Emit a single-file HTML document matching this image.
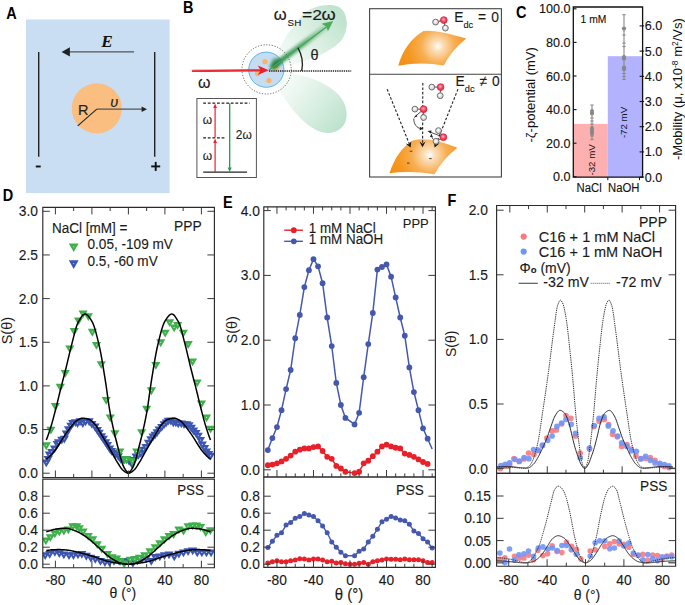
<!DOCTYPE html>
<html><head><meta charset="utf-8"><title>Figure</title>
<style>
html,body{margin:0;padding:0;background:#fff;width:685px;height:605px;overflow:hidden}
svg{display:block}
text{font-family:"Liberation Sans",sans-serif}
</style></head><body>
<svg width="685" height="605" viewBox="0 0 685 605">
<rect width="685" height="605" fill="#fff"/>
<text transform="translate(6.2,18.6) scale(1,1.1)" text-anchor="start" style='font-size:14.5px;font-family:"Liberation Sans",sans-serif;font-weight:bold;' fill="#000" >A</text>
<rect x="26" y="19.5" width="143.6" height="173.6" fill="#C9DEF2"/>
<line x1="38.7" y1="52" x2="38.7" y2="156.8" stroke="#222" stroke-width="1.4" />
<line x1="154.7" y1="52" x2="154.7" y2="156.7" stroke="#222" stroke-width="1.4" />
<line x1="35.8" y1="166.5" x2="40.7" y2="166.5" stroke="#111" stroke-width="1.9" />
<line x1="151.2" y1="166.4" x2="160.2" y2="166.4" stroke="#111" stroke-width="1.9" />
<line x1="155.7" y1="161.9" x2="155.7" y2="170.9" stroke="#111" stroke-width="1.9" />
<line x1="69" y1="51.9" x2="134.1" y2="51.9" stroke="#555" stroke-width="1.4" />
<polygon points="61.6,51.9 69.9,47.3 69.9,56.5" fill="#222"/>
<text transform="translate(101.2,46.7) scale(1,0.97)" text-anchor="start" style='font-size:17.2px;font-family:"Liberation Serif",serif;font-weight:bold;font-style:italic;' fill="#111" >E</text>
<circle cx="96.8" cy="108.4" r="25.1" fill="#F9BE80"/>
<line x1="96.8" y1="109.2" x2="77.7" y2="125.8" stroke="#222" stroke-width="1.1" />
<line x1="96.8" y1="109.2" x2="142.3" y2="109.2" stroke="#555" stroke-width="1.3" />
<polygon points="147,109.2 141.6,106.5 141.6,111.9" fill="#222"/>
<text transform="translate(77.9,114.7) scale(1,1.05)" text-anchor="start" style='font-size:14.6px;font-family:"Liberation Sans",sans-serif;' fill="#222" stroke="#222" stroke-width="0.12" >R</text>
<text transform="translate(110.2,107.3) scale(1,1.05)" text-anchor="start" style='font-size:14.5px;font-family:"Liberation Sans",sans-serif;font-style:italic;' fill="#222" stroke="#222" stroke-width="0.12" >υ</text>
<text transform="translate(183,12.8) scale(1,1.1)" text-anchor="start" style='font-size:14.5px;font-family:"Liberation Sans",sans-serif;font-weight:bold;' fill="#000" >B</text>
<defs>
<linearGradient id="lobeU" gradientUnits="userSpaceOnUse" x1="270" y1="68" x2="340" y2="14">
<stop offset="0" stop-color="#C4E6D2" stop-opacity="0"/>
<stop offset="0.35" stop-color="#C4E6D2" stop-opacity="0.35"/>
<stop offset="1" stop-color="#BFE3CD" stop-opacity="1"/>
</linearGradient>
<linearGradient id="lobeL" gradientUnits="userSpaceOnUse" x1="272" y1="76" x2="340" y2="128">
<stop offset="0" stop-color="#C4E6D2" stop-opacity="0"/>
<stop offset="0.3" stop-color="#C4E6D2" stop-opacity="0.3"/>
<stop offset="1" stop-color="#BCE2CC" stop-opacity="1"/>
</linearGradient>
<radialGradient id="surf1" gradientUnits="userSpaceOnUse" cx="437.8" cy="46.3" r="40">
<stop offset="0" stop-color="#FFFFFF"/>
<stop offset="0.12" stop-color="#FCE0BE"/>
<stop offset="0.42" stop-color="#F7AE52"/>
<stop offset="0.75" stop-color="#F5971F"/>
<stop offset="1" stop-color="#F39019"/>
</radialGradient>
<radialGradient id="surf2" gradientUnits="userSpaceOnUse" cx="429.4" cy="154.9" r="42">
<stop offset="0" stop-color="#FFFFFF"/>
<stop offset="0.12" stop-color="#FCE0BE"/>
<stop offset="0.42" stop-color="#F7AE52"/>
<stop offset="0.75" stop-color="#F5971F"/>
<stop offset="1" stop-color="#F39019"/>
</radialGradient>
<radialGradient id="oxy" cx="0.45" cy="0.4" r="0.6">
<stop offset="0" stop-color="#FFB8C0"/>
<stop offset="0.5" stop-color="#F2506A"/>
<stop offset="1" stop-color="#E02440"/>
</radialGradient>
<radialGradient id="hyd" cx="0.45" cy="0.4" r="0.6">
<stop offset="0" stop-color="#FFFFFF"/>
<stop offset="1" stop-color="#C8C8C8"/>
</radialGradient>
<filter id="blur1" x="-20%" y="-50%" width="140%" height="200%"><feGaussianBlur stdDeviation="1.6"/></filter>
<filter id="blur2" x="-20%" y="-50%" width="140%" height="200%"><feGaussianBlur stdDeviation="0.9"/></filter>
<filter id="blur3" x="-20%" y="-50%" width="140%" height="200%"><feGaussianBlur stdDeviation="0.4"/></filter>
<marker id="ah" markerWidth="6" markerHeight="6" refX="5" refY="3" orient="auto" markerUnits="userSpaceOnUse"><path d="M0,0 L6,3 L0,6 z" fill="#111"/></marker>
<marker id="ah2" markerWidth="4" markerHeight="4" refX="3.5" refY="2" orient="auto" markerUnits="userSpaceOnUse"><path d="M0,0 L4,2 L0,4 z" fill="#222"/></marker>
</defs>
<path d="M268,70 C276,55 287,31 303,14.5 C313,5.5 329,2.8 339,7 C349,13 349.5,32 340,42 C328,54 306,61 291,65 C282,67 274,69 268,70 Z" fill="url(#lobeU)"/>
<path d="M268,72 C280,71 300,73 318,81 C336,89 348,101 346.5,117 C345,131 331,136 318,131 C300,123 284,100 268,72 Z" fill="url(#lobeL)"/>
<circle cx="266.6" cy="69.4" r="24.6" fill="none" stroke="#555" stroke-width="0.9" stroke-dasharray="1.2,1.6"/>
<circle cx="266.3" cy="69.7" r="17.6" fill="#C6DCF1" stroke="#5FB4E8" stroke-width="1"/>
<circle cx="265" cy="61.7" r="2.6" fill="#F8B46A"/>
<circle cx="257.5" cy="73.6" r="2.6" fill="#F8B46A"/>
<circle cx="268.9" cy="80.6" r="2.6" fill="#F8B46A"/>
<circle cx="275.9" cy="68.3" r="2.6" fill="#F8B46A"/>
<linearGradient id="gglow" gradientUnits="userSpaceOnUse" x1="270" y1="69" x2="330" y2="24"><stop offset="0" stop-color="#0E7A30" stop-opacity="0.9"/><stop offset="0.6" stop-color="#1A8A3A" stop-opacity="0.6"/><stop offset="1" stop-color="#2A9A4A" stop-opacity="0.15"/></linearGradient>
<line x1="271" y1="68" x2="329" y2="24.5" stroke="url(#gglow)" stroke-width="5.5" filter="url(#blur1)"/>
<circle cx="276" cy="62.5" r="4.5" fill="#0E7A30" fill-opacity="0.55" filter="url(#blur1)"/>
<line x1="269" y1="70" x2="329" y2="25" stroke="#45A653" stroke-width="1.4" />
<polygon points="333.2,21 321.6,23.8 326.3,26.6 327.9,31.3" fill="#4DAA58"/>
<line x1="192" y1="71.2" x2="262" y2="70.3" stroke="#F24048" stroke-width="5" stroke-opacity="0.5" filter="url(#blur1)"/>
<line x1="192" y1="71.2" x2="262" y2="70.3" stroke="#EE2A35" stroke-width="2" filter="url(#blur3)"/>
<polygon points="268.8,70.2 257.8,65.6 260.6,70.3 257.8,75" fill="#E8202E" filter="url(#blur3)"/>
<line x1="269" y1="71" x2="351.2" y2="71" stroke="#222" stroke-width="1.4" stroke-dasharray="1.3,0.9"/>
<path d="M297.8,47.6 A33,33 0 0 1 301.7,71" fill="none" stroke="#222" stroke-width="1.3"/>
<text transform="translate(310.4,59.8) scale(1,1.05)" text-anchor="start" style='font-size:14.5px;font-family:"Liberation Sans",sans-serif;' fill="#222" stroke="#222" stroke-width="0.12" >θ</text>
<text transform="translate(273.7,20) scale(1,1.05)" text-anchor="start" style='font-size:15.5px;font-family:"Liberation Sans",sans-serif;' fill="#1a1a1a" stroke="#1a1a1a" stroke-width="0.12" textLength="12.9" lengthAdjust="spacingAndGlyphs">ω</text>
<text transform="translate(287.6,25.5) scale(1,1.05)" text-anchor="start" style='font-size:9.2px;font-family:"Liberation Sans",sans-serif;' fill="#1a1a1a" stroke="#1a1a1a" stroke-width="0.12" textLength="13.6" lengthAdjust="spacingAndGlyphs">SH</text>
<text transform="translate(302,19.9) scale(1,1.05)" text-anchor="start" style='font-size:14.5px;font-family:"Liberation Sans",sans-serif;' fill="#1a1a1a" stroke="#1a1a1a" stroke-width="0.12" textLength="20" lengthAdjust="spacingAndGlyphs">=2</text>
<text transform="translate(321.6,20) scale(1,1.05)" text-anchor="start" style='font-size:15.5px;font-family:"Liberation Sans",sans-serif;' fill="#1a1a1a" stroke="#1a1a1a" stroke-width="0.12" textLength="14.2" lengthAdjust="spacingAndGlyphs">ω</text>
<text transform="translate(198,87.8) scale(1,1.05)" text-anchor="start" style='font-size:16px;font-family:"Liberation Sans",sans-serif;' fill="#1a1a1a" stroke="#1a1a1a" stroke-width="0.12" >ω</text>
<rect x="196.9" y="98.5" width="59.5" height="79" fill="#fff" stroke="#555" stroke-width="1"/>
<line x1="203.2" y1="103.1" x2="249.8" y2="103.1" stroke="#222" stroke-width="1.3" stroke-dasharray="2.8,1.8"/>
<line x1="203.2" y1="137.9" x2="225.5" y2="137.9" stroke="#222" stroke-width="1.3" stroke-dasharray="2.8,1.8"/>
<line x1="203.2" y1="172.2" x2="247" y2="172.2" stroke="#222" stroke-width="1.3" />
<line x1="215.1" y1="172" x2="215.1" y2="141.5" stroke="#EE2030" stroke-width="1.2" />
<polygon points="215.1,138.6 213.2,143 217,143" fill="#EE2030"/>
<line x1="215.1" y1="137.5" x2="215.1" y2="106.5" stroke="#EE2030" stroke-width="1.2" />
<polygon points="215.1,103.6 213.2,108 217,108" fill="#EE2030"/>
<line x1="229.7" y1="103.3" x2="229.7" y2="168.5" stroke="#1E9A4A" stroke-width="1.3" />
<polygon points="229.7,172 227.7,167.5 231.7,167.5" fill="#1E9A4A"/>
<text transform="translate(202.8,123.8) scale(1,1.05)" text-anchor="start" style='font-size:12px;font-family:"Liberation Sans",sans-serif;' fill="#222" stroke="#222" stroke-width="0.12" >ω</text>
<text transform="translate(202.8,160.2) scale(1,1.05)" text-anchor="start" style='font-size:12px;font-family:"Liberation Sans",sans-serif;' fill="#222" stroke="#222" stroke-width="0.12" >ω</text>
<text transform="translate(235.8,138.7) scale(1,1.05)" text-anchor="start" style='font-size:12px;font-family:"Liberation Sans",sans-serif;' fill="#222" stroke="#222" stroke-width="0.12" >2ω</text>
<rect x="369.6" y="8.7" width="131.8" height="168.3" fill="none" stroke="#444" stroke-width="1.1"/>
<line x1="369.6" y1="74.2" x2="501.4" y2="74.2" stroke="#444" stroke-width="1.1" />
<path d="M423.5,31 Q436,29.5 466.3,38.6 Q452,50 443.8,65.4 Q420,61.5 398.2,65.7 Q405,42 423.5,31 Z" fill="url(#surf1)"/>
<path d="M413,140.6 Q428,136 457.4,147.8 Q442,160 434.5,174.3 Q410,170.5 389.5,173.3 Q397,150 413,140.6 Z" fill="url(#surf2)"/>
<line x1="387.1" y1="89.1" x2="409.6" y2="144.5" stroke="#222" stroke-width="1.1" stroke-dasharray="2.6,1.8"/>
<line x1="422.8" y1="83" x2="422.6" y2="144.5" stroke="#222" stroke-width="1.1" stroke-dasharray="2.6,1.8"/>
<line x1="458" y1="89.1" x2="435.9" y2="144.5" stroke="#222" stroke-width="1.1" stroke-dasharray="2.6,1.8"/>
<path d="M410.6,147.6 L405.55,143.39 L409.29,144.38 L411.29,141.06 Z" fill="#111"/>
<path d="M422.5,147.2 L419.4,141.4 L422.5,143.72 L425.6,141.4 Z" fill="#111"/>
<path d="M434.6,147.6 L433.87,141.06 L435.89,144.37 L439.63,143.36 Z" fill="#111"/>
<line x1="423.6" y1="109.2" x2="415.2" y2="116.6" stroke="#222" stroke-width="0.8" />
<path d="M413.6,117.8 L416.6,114.6 L417.4,116.6 Z" fill="#222"/>
<path d="M413.8,118.5 C413.5,124 417,128.3 421,128.6" fill="none" stroke="#222" stroke-width="0.8"/>
<path d="M423.2,128.6 L419.8,126.8 L419.8,130.4 Z" fill="#222"/>
<line x1="443.4" y1="137.2" x2="429.5" y2="131.8" stroke="#222" stroke-width="0.8" />
<path d="M427.5,131.1 L431.6,130.6 L430.8,133.4 Z" fill="#222"/>
<path d="M431.4,134 C431.5,137 432.6,139.3 434.4,140.4" fill="none" stroke="#222" stroke-width="0.8"/>
<path d="M431.2,134.2 L429.9,137 L432.9,137 Z" fill="#222"/>
<line x1="443.8" y1="20.1" x2="435.6" y2="22.1" stroke="#666" stroke-width="1.1"/>
<line x1="443.8" y1="20.1" x2="445.4" y2="28.1" stroke="#666" stroke-width="1.1"/>
<circle cx="435.6" cy="22.1" r="2.9" fill="url(#hyd)" stroke="#707070" stroke-width="1"/>
<circle cx="445.4" cy="28.1" r="2.9" fill="url(#hyd)" stroke="#707070" stroke-width="1"/>
<circle cx="443.8" cy="20.1" r="3.4" fill="url(#oxy)" stroke="#D42840" stroke-width="0.8"/>
<line x1="440.6" y1="87.1" x2="431.8" y2="87.1" stroke="#666" stroke-width="1.1"/>
<line x1="440.6" y1="87.1" x2="440.2" y2="95.7" stroke="#666" stroke-width="1.1"/>
<circle cx="431.8" cy="87.1" r="2.9" fill="url(#hyd)" stroke="#707070" stroke-width="1"/>
<circle cx="440.2" cy="95.7" r="2.9" fill="url(#hyd)" stroke="#707070" stroke-width="1"/>
<circle cx="440.6" cy="87.1" r="3.4" fill="url(#oxy)" stroke="#D42840" stroke-width="0.8"/>
<line x1="423.6" y1="109.2" x2="414.9" y2="109.1" stroke="#666" stroke-width="1.1"/>
<line x1="423.6" y1="109.2" x2="423.6" y2="117.5" stroke="#666" stroke-width="1.1"/>
<circle cx="414.9" cy="109.1" r="2.9" fill="url(#hyd)" stroke="#707070" stroke-width="1"/>
<circle cx="423.6" cy="117.5" r="2.9" fill="url(#hyd)" stroke="#707070" stroke-width="1"/>
<circle cx="423.6" cy="109.2" r="3.4" fill="url(#oxy)" stroke="#D42840" stroke-width="0.8"/>
<line x1="443.4" y1="137.2" x2="438.5" y2="130.6" stroke="#666" stroke-width="1.1"/>
<line x1="443.4" y1="137.2" x2="436.0" y2="141.3" stroke="#666" stroke-width="1.1"/>
<circle cx="438.5" cy="130.6" r="2.9" fill="url(#hyd)" stroke="#707070" stroke-width="1"/>
<circle cx="436.0" cy="141.3" r="2.9" fill="url(#hyd)" stroke="#707070" stroke-width="1"/>
<circle cx="443.4" cy="137.2" r="3.4" fill="url(#oxy)" stroke="#D42840" stroke-width="0.8"/>
<line x1="409.7" y1="151.2" x2="412.3" y2="151.2" stroke="#333" stroke-width="0.9" />
<line x1="429.1" y1="158.6" x2="431.7" y2="158.6" stroke="#333" stroke-width="0.9" />
<line x1="407" y1="163.1" x2="409.6" y2="163.1" stroke="#333" stroke-width="0.9" />
<text transform="translate(454.2,21.9) scale(1,1.05)" text-anchor="start" style='font-size:13.8px;font-family:"Liberation Sans",sans-serif;' fill="#1a1a1a" stroke="#1a1a1a" stroke-width="0.12" >E</text>
<text transform="translate(463.4,27.6) scale(1,1.05)" text-anchor="start" style='font-size:9.2px;font-family:"Liberation Sans",sans-serif;' fill="#1a1a1a" stroke="#1a1a1a" stroke-width="0.12" >dc</text>
<text transform="translate(478,21.9) scale(1,1.05)" text-anchor="start" style='font-size:13.8px;font-family:"Liberation Sans",sans-serif;' fill="#1a1a1a" stroke="#1a1a1a" stroke-width="0.12" >=</text>
<text transform="translate(491.3,21.9) scale(1,1.05)" text-anchor="start" style='font-size:13.8px;font-family:"Liberation Sans",sans-serif;' fill="#1a1a1a" stroke="#1a1a1a" stroke-width="0.12" >0</text>
<text transform="translate(455.5,85.9) scale(1,1.05)" text-anchor="start" style='font-size:13.8px;font-family:"Liberation Sans",sans-serif;' fill="#1a1a1a" stroke="#1a1a1a" stroke-width="0.12" >E</text>
<text transform="translate(464.8,91.6) scale(1,1.05)" text-anchor="start" style='font-size:9.2px;font-family:"Liberation Sans",sans-serif;' fill="#1a1a1a" stroke="#1a1a1a" stroke-width="0.12" >dc</text>
<text transform="translate(479.8,85.9) scale(1,1.05)" text-anchor="start" style='font-size:13.8px;font-family:"Liberation Sans",sans-serif;' fill="#1a1a1a" stroke="#1a1a1a" stroke-width="0.12" >≠</text>
<text transform="translate(492,85.9) scale(1,1.05)" text-anchor="start" style='font-size:13.8px;font-family:"Liberation Sans",sans-serif;' fill="#1a1a1a" stroke="#1a1a1a" stroke-width="0.12" >0</text>
<text transform="translate(516,17.6) scale(1,1.1)" text-anchor="start" style='font-size:14.5px;font-family:"Liberation Sans",sans-serif;font-weight:bold;' fill="#000" >C</text>
<rect x="573.3" y="123.9" width="34.5" height="53.29999999999998" fill="#FDB0B0"/>
<rect x="607.8" y="56.2" width="34.80000000000007" height="120.99999999999999" fill="#B2B2FE"/>
<path d="M573.3,7 L642.6,7 L642.6,177.2 L573.3,177.2 Z" fill="none" stroke="#111" stroke-width="1.3"/>
<line x1="573.3" y1="176.8" x2="576.5" y2="176.8" stroke="#111" stroke-width="1.1" />
<text transform="translate(570.6,181.3) scale(1,1.05)" text-anchor="end" style='font-size:12.6px;font-family:"Liberation Sans",sans-serif;' fill="#111" stroke="#111" stroke-width="0.12" >0.0</text>
<line x1="573.3" y1="143.2" x2="576.5" y2="143.2" stroke="#111" stroke-width="1.1" />
<text transform="translate(570.6,147.7) scale(1,1.05)" text-anchor="end" style='font-size:12.6px;font-family:"Liberation Sans",sans-serif;' fill="#111" stroke="#111" stroke-width="0.12" >20.0</text>
<line x1="573.3" y1="109.6" x2="576.5" y2="109.6" stroke="#111" stroke-width="1.1" />
<text transform="translate(570.6,114.1) scale(1,1.05)" text-anchor="end" style='font-size:12.6px;font-family:"Liberation Sans",sans-serif;' fill="#111" stroke="#111" stroke-width="0.12" >40.0</text>
<line x1="573.3" y1="76" x2="576.5" y2="76" stroke="#111" stroke-width="1.1" />
<text transform="translate(570.6,80.5) scale(1,1.05)" text-anchor="end" style='font-size:12.6px;font-family:"Liberation Sans",sans-serif;' fill="#111" stroke="#111" stroke-width="0.12" >60.0</text>
<line x1="573.3" y1="42.4" x2="576.5" y2="42.4" stroke="#111" stroke-width="1.1" />
<text transform="translate(570.6,46.9) scale(1,1.05)" text-anchor="end" style='font-size:12.6px;font-family:"Liberation Sans",sans-serif;' fill="#111" stroke="#111" stroke-width="0.12" >80.0</text>
<line x1="573.3" y1="8.8" x2="576.5" y2="8.8" stroke="#111" stroke-width="1.1" />
<text transform="translate(570.6,13.3) scale(1,1.05)" text-anchor="end" style='font-size:12.6px;font-family:"Liberation Sans",sans-serif;' fill="#111" stroke="#111" stroke-width="0.12" >100.0</text>
<line x1="639.6" y1="177.1" x2="644.1" y2="177.1" stroke="#111" stroke-width="1.1" />
<text transform="translate(644.8,181.6) scale(1,1.05)" text-anchor="start" style='font-size:12.6px;font-family:"Liberation Sans",sans-serif;' fill="#111" stroke="#111" stroke-width="0.12" >0.0</text>
<line x1="639.6" y1="151.9" x2="644.1" y2="151.9" stroke="#111" stroke-width="1.1" />
<text transform="translate(644.8,156.4) scale(1,1.05)" text-anchor="start" style='font-size:12.6px;font-family:"Liberation Sans",sans-serif;' fill="#111" stroke="#111" stroke-width="0.12" >1.0</text>
<line x1="639.6" y1="126.7" x2="644.1" y2="126.7" stroke="#111" stroke-width="1.1" />
<text transform="translate(644.8,131.2) scale(1,1.05)" text-anchor="start" style='font-size:12.6px;font-family:"Liberation Sans",sans-serif;' fill="#111" stroke="#111" stroke-width="0.12" >2.0</text>
<line x1="639.6" y1="101.5" x2="644.1" y2="101.5" stroke="#111" stroke-width="1.1" />
<text transform="translate(644.8,106) scale(1,1.05)" text-anchor="start" style='font-size:12.6px;font-family:"Liberation Sans",sans-serif;' fill="#111" stroke="#111" stroke-width="0.12" >3.0</text>
<line x1="639.6" y1="76.3" x2="644.1" y2="76.3" stroke="#111" stroke-width="1.1" />
<text transform="translate(644.8,80.8) scale(1,1.05)" text-anchor="start" style='font-size:12.6px;font-family:"Liberation Sans",sans-serif;' fill="#111" stroke="#111" stroke-width="0.12" >4.0</text>
<line x1="639.6" y1="51.1" x2="644.1" y2="51.1" stroke="#111" stroke-width="1.1" />
<text transform="translate(644.8,55.6) scale(1,1.05)" text-anchor="start" style='font-size:12.6px;font-family:"Liberation Sans",sans-serif;' fill="#111" stroke="#111" stroke-width="0.12" >5.0</text>
<line x1="639.6" y1="25.9" x2="644.1" y2="25.9" stroke="#111" stroke-width="1.1" />
<text transform="translate(644.8,30.4) scale(1,1.05)" text-anchor="start" style='font-size:12.6px;font-family:"Liberation Sans",sans-serif;' fill="#111" stroke="#111" stroke-width="0.12" >6.0</text>
<line x1="607.8" y1="177.2" x2="607.8" y2="180.2" stroke="#111" stroke-width="1" />
<line x1="639.5" y1="177.2" x2="639.5" y2="180.2" stroke="#111" stroke-width="1" />
<text transform="translate(589.1,191.5) scale(1,1.05)" text-anchor="middle" style='font-size:11.3px;font-family:"Liberation Sans",sans-serif;' fill="#111" stroke="#111" stroke-width="0.12" >NaCl</text>
<text transform="translate(623.8,191.5) scale(1,1.05)" text-anchor="middle" style='font-size:11.3px;font-family:"Liberation Sans",sans-serif;' fill="#111" stroke="#111" stroke-width="0.12" >NaOH</text>
<text transform="translate(580.6,22.6) scale(1,1.05)" text-anchor="start" style='font-size:10.3px;font-family:"Liberation Sans",sans-serif;' fill="#111" stroke="#111" stroke-width="0.12" >1 mM</text>
<text transform="translate(594.9,159.9) rotate(-90)" text-anchor="middle" style="font-size:9.7px" fill="#111" font-family='"Liberation Sans",sans-serif'>-32 mV</text>
<text transform="translate(627.4,122.5) rotate(-90)" text-anchor="middle" style="font-size:9.7px" fill="#111" font-family='"Liberation Sans",sans-serif'>-72 mV</text>
<text transform="translate(535.1,94.8) rotate(-90)" text-anchor="middle" style="font-size:13px" fill="#111" font-family='"Liberation Sans",sans-serif'>-ζ-potential (mV)</text>
<text transform="translate(682.1,89.1) rotate(-90)" text-anchor="middle" style="font-size:13px" fill="#111" font-family='"Liberation Sans",sans-serif'>-Mobility (μ, x10<tspan dy="-4.5" style="font-size:8.5px">-8</tspan><tspan dy="4.5"> m</tspan><tspan dy="-4.5" style="font-size:8.5px">2</tspan><tspan dy="4.5">/Vs)</tspan></text>
<line x1="592" y1="105" x2="592" y2="139.7" stroke="#888" stroke-width="1.1" />
<line x1="590.3" y1="105" x2="593.7" y2="105" stroke="#888" stroke-width="1" />
<line x1="590.3" y1="139.7" x2="593.7" y2="139.7" stroke="#888" stroke-width="1" />
<line x1="590.3" y1="114" x2="593.7" y2="114" stroke="#888" stroke-width="1" />
<line x1="590.3" y1="118" x2="593.7" y2="118" stroke="#888" stroke-width="1" />
<line x1="590.3" y1="121" x2="593.7" y2="121" stroke="#888" stroke-width="1" />
<line x1="590.3" y1="124" x2="593.7" y2="124" stroke="#888" stroke-width="1" />
<line x1="590.3" y1="131" x2="593.7" y2="131" stroke="#888" stroke-width="1" />
<line x1="590.3" y1="136" x2="593.7" y2="136" stroke="#888" stroke-width="1" />
<circle cx="592" cy="110.8" r="1.9" fill="#888"/>
<circle cx="592" cy="112.2" r="1.9" fill="#888"/>
<circle cx="592" cy="113.6" r="1.9" fill="#888"/>
<circle cx="592" cy="128" r="1.9" fill="#888"/>
<circle cx="592" cy="129.5" r="1.9" fill="#888"/>
<circle cx="592" cy="131" r="1.9" fill="#888"/>
<circle cx="592" cy="132.5" r="1.9" fill="#888"/>
<circle cx="592" cy="134" r="1.9" fill="#888"/>
<line x1="624" y1="14.7" x2="624" y2="79.5" stroke="#888" stroke-width="1.1" />
<line x1="622.3" y1="14.7" x2="625.7" y2="14.7" stroke="#888" stroke-width="1" />
<line x1="622.3" y1="79.5" x2="625.7" y2="79.5" stroke="#888" stroke-width="1" />
<line x1="622.3" y1="35" x2="625.7" y2="35" stroke="#888" stroke-width="1" />
<line x1="622.3" y1="43" x2="625.7" y2="43" stroke="#888" stroke-width="1" />
<line x1="622.3" y1="46.6" x2="625.7" y2="46.6" stroke="#888" stroke-width="1" />
<line x1="622.3" y1="73.5" x2="625.7" y2="73.5" stroke="#888" stroke-width="1" />
<line x1="622.3" y1="76.5" x2="625.7" y2="76.5" stroke="#888" stroke-width="1" />
<circle cx="624" cy="28.6" r="2.1" fill="#888"/>
<circle cx="624" cy="57" r="2.1" fill="#888"/>
<circle cx="624" cy="58.6" r="2.1" fill="#888"/>
<circle cx="624" cy="67.6" r="2.1" fill="#888"/>
<circle cx="624" cy="69.2" r="2.1" fill="#888"/>
<text transform="translate(2.7,200.6) scale(1,1.1)" text-anchor="start" style='font-size:14.5px;font-family:"Liberation Sans",sans-serif;font-weight:bold;' fill="#000" >D</text>
<clipPath id="cD1"><rect x="42.8" y="207.4" width="171.60000000000002" height="270.1"/></clipPath>
<clipPath id="cD2"><rect x="42.8" y="479.1" width="171.60000000000002" height="88.60000000000002"/></clipPath>
<g clip-path="url(#cD1)">
<path d="M41.68,459.38 L50.88,459.38 L46.28,467.18 Z" fill="#3B56B2"/>
<circle cx="46.28" cy="462.34" r="0.6" fill="#fff" fill-opacity="0.75"/>
<path d="M43.5,455.89 L52.7,455.89 L48.1,463.69 Z" fill="#3B56B2"/>
<circle cx="48.1" cy="458.85" r="0.6" fill="#fff" fill-opacity="0.75"/>
<path d="M44.78,451.52 L53.98,451.52 L49.38,459.32 Z" fill="#3B56B2"/>
<circle cx="49.38" cy="454.49" r="0.6" fill="#fff" fill-opacity="0.75"/>
<path d="M47.15,448.9 L56.35,448.9 L51.75,456.7 Z" fill="#3B56B2"/>
<circle cx="51.75" cy="451.87" r="0.6" fill="#fff" fill-opacity="0.75"/>
<path d="M49.89,445.41 L59.09,445.41 L54.49,453.21 Z" fill="#3B56B2"/>
<circle cx="54.49" cy="448.37" r="0.6" fill="#fff" fill-opacity="0.75"/>
<path d="M52.63,441.05 L61.83,441.05 L57.23,448.84 Z" fill="#3B56B2"/>
<circle cx="57.23" cy="444.01" r="0.6" fill="#fff" fill-opacity="0.75"/>
<path d="M53.9,439.3 L63.1,439.3 L58.5,447.1 Z" fill="#3B56B2"/>
<circle cx="58.5" cy="442.26" r="0.6" fill="#fff" fill-opacity="0.75"/>
<path d="M57.19,436.68 L66.39,436.68 L61.79,444.48 Z" fill="#3B56B2"/>
<circle cx="61.79" cy="439.64" r="0.6" fill="#fff" fill-opacity="0.75"/>
<path d="M59.74,435.81 L68.94,435.81 L64.34,443.61 Z" fill="#3B56B2"/>
<circle cx="64.34" cy="438.77" r="0.6" fill="#fff" fill-opacity="0.75"/>
<path d="M61.75,430.57 L70.95,430.57 L66.35,438.37 Z" fill="#3B56B2"/>
<circle cx="66.35" cy="433.53" r="0.6" fill="#fff" fill-opacity="0.75"/>
<path d="M63.85,426.2 L73.05,426.2 L68.45,434 Z" fill="#3B56B2"/>
<circle cx="68.45" cy="429.17" r="0.6" fill="#fff" fill-opacity="0.75"/>
<path d="M66.31,422.71 L75.51,422.71 L70.91,430.51 Z" fill="#3B56B2"/>
<circle cx="70.91" cy="425.68" r="0.6" fill="#fff" fill-opacity="0.75"/>
<path d="M68.14,420.09 L77.34,420.09 L72.74,427.89 Z" fill="#3B56B2"/>
<circle cx="72.74" cy="423.06" r="0.6" fill="#fff" fill-opacity="0.75"/>
<path d="M70.88,419.22 L80.08,419.22 L75.48,427.02 Z" fill="#3B56B2"/>
<circle cx="75.48" cy="422.18" r="0.6" fill="#fff" fill-opacity="0.75"/>
<path d="M72.97,420.09 L82.17,420.09 L77.57,427.89 Z" fill="#3B56B2"/>
<circle cx="77.57" cy="423.06" r="0.6" fill="#fff" fill-opacity="0.75"/>
<path d="M75.44,418.35 L84.64,418.35 L80.04,426.15 Z" fill="#3B56B2"/>
<circle cx="80.04" cy="421.31" r="0.6" fill="#fff" fill-opacity="0.75"/>
<path d="M78.18,420.09 L87.38,420.09 L82.78,427.89 Z" fill="#3B56B2"/>
<circle cx="82.78" cy="423.06" r="0.6" fill="#fff" fill-opacity="0.75"/>
<path d="M80.91,418.35 L90.11,418.35 L85.51,426.15 Z" fill="#3B56B2"/>
<circle cx="85.51" cy="421.31" r="0.6" fill="#fff" fill-opacity="0.75"/>
<path d="M84.56,418.35 L93.76,418.35 L89.16,426.15 Z" fill="#3B56B2"/>
<circle cx="89.16" cy="421.31" r="0.6" fill="#fff" fill-opacity="0.75"/>
<path d="M87.3,420.97 L96.5,420.97 L91.9,428.77 Z" fill="#3B56B2"/>
<circle cx="91.9" cy="423.93" r="0.6" fill="#fff" fill-opacity="0.75"/>
<path d="M90.4,423.59 L99.6,423.59 L95,431.38 Z" fill="#3B56B2"/>
<circle cx="95" cy="426.55" r="0.6" fill="#fff" fill-opacity="0.75"/>
<path d="M92.78,427.08 L101.97,427.08 L97.38,434.88 Z" fill="#3B56B2"/>
<circle cx="97.38" cy="430.04" r="0.6" fill="#fff" fill-opacity="0.75"/>
<path d="M94.6,429.7 L103.8,429.7 L99.2,437.5 Z" fill="#3B56B2"/>
<circle cx="99.2" cy="432.66" r="0.6" fill="#fff" fill-opacity="0.75"/>
<path d="M96.88,433.19 L106.08,433.19 L101.48,440.99 Z" fill="#3B56B2"/>
<circle cx="101.48" cy="436.15" r="0.6" fill="#fff" fill-opacity="0.75"/>
<path d="M98.71,435.81 L107.91,435.81 L103.31,443.61 Z" fill="#3B56B2"/>
<circle cx="103.31" cy="438.77" r="0.6" fill="#fff" fill-opacity="0.75"/>
<path d="M100.99,439.3 L110.19,439.3 L105.59,447.1 Z" fill="#3B56B2"/>
<circle cx="105.59" cy="442.26" r="0.6" fill="#fff" fill-opacity="0.75"/>
<path d="M102.81,441.92 L112.01,441.92 L107.41,449.72 Z" fill="#3B56B2"/>
<circle cx="107.41" cy="444.88" r="0.6" fill="#fff" fill-opacity="0.75"/>
<path d="M105.09,445.41 L114.29,445.41 L109.69,453.21 Z" fill="#3B56B2"/>
<circle cx="109.69" cy="448.37" r="0.6" fill="#fff" fill-opacity="0.75"/>
<path d="M106.92,448.03 L116.12,448.03 L111.52,455.83 Z" fill="#3B56B2"/>
<circle cx="111.52" cy="450.99" r="0.6" fill="#fff" fill-opacity="0.75"/>
<path d="M109.2,449.78 L118.4,449.78 L113.8,457.57 Z" fill="#3B56B2"/>
<circle cx="113.8" cy="452.74" r="0.6" fill="#fff" fill-opacity="0.75"/>
<path d="M111.12,450.65 L120.32,450.65 L115.72,458.45 Z" fill="#3B56B2"/>
<circle cx="115.72" cy="453.61" r="0.6" fill="#fff" fill-opacity="0.75"/>
<path d="M113.76,453.27 L122.96,453.27 L118.36,461.07 Z" fill="#3B56B2"/>
<circle cx="118.36" cy="456.23" r="0.6" fill="#fff" fill-opacity="0.75"/>
<path d="M116.04,455.89 L125.24,455.89 L120.64,463.69 Z" fill="#3B56B2"/>
<circle cx="120.64" cy="458.85" r="0.6" fill="#fff" fill-opacity="0.75"/>
<path d="M119.24,456.76 L128.44,456.76 L123.84,464.56 Z" fill="#3B56B2"/>
<circle cx="123.84" cy="459.72" r="0.6" fill="#fff" fill-opacity="0.75"/>
<path d="M121.98,455.89 L131.18,455.89 L126.58,463.69 Z" fill="#3B56B2"/>
<circle cx="126.58" cy="458.85" r="0.6" fill="#fff" fill-opacity="0.75"/>
<path d="M124.53,457.98 L133.73,457.98 L129.13,465.78 Z" fill="#3B56B2"/>
<circle cx="129.13" cy="460.94" r="0.6" fill="#fff" fill-opacity="0.75"/>
<path d="M127.18,460.6 L136.38,460.6 L131.78,468.4 Z" fill="#3B56B2"/>
<circle cx="131.78" cy="463.56" r="0.6" fill="#fff" fill-opacity="0.75"/>
<path d="M129.28,457.11 L138.47,457.11 L133.88,464.9 Z" fill="#3B56B2"/>
<circle cx="133.88" cy="460.07" r="0.6" fill="#fff" fill-opacity="0.75"/>
<path d="M131.47,453.61 L140.66,453.61 L136.06,461.41 Z" fill="#3B56B2"/>
<circle cx="136.06" cy="456.58" r="0.6" fill="#fff" fill-opacity="0.75"/>
<path d="M133.84,451.87 L143.04,451.87 L138.44,459.67 Z" fill="#3B56B2"/>
<circle cx="138.44" cy="454.83" r="0.6" fill="#fff" fill-opacity="0.75"/>
<path d="M136.3,450.12 L145.5,450.12 L140.9,457.92 Z" fill="#3B56B2"/>
<circle cx="140.9" cy="453.08" r="0.6" fill="#fff" fill-opacity="0.75"/>
<path d="M138.86,446.63 L148.06,446.63 L143.46,454.43 Z" fill="#3B56B2"/>
<circle cx="143.46" cy="449.59" r="0.6" fill="#fff" fill-opacity="0.75"/>
<path d="M141.32,444.01 L150.52,444.01 L145.92,451.81 Z" fill="#3B56B2"/>
<circle cx="145.92" cy="446.97" r="0.6" fill="#fff" fill-opacity="0.75"/>
<path d="M143.88,439.64 L153.07,439.64 L148.47,447.44 Z" fill="#3B56B2"/>
<circle cx="148.47" cy="442.61" r="0.6" fill="#fff" fill-opacity="0.75"/>
<path d="M146.25,436.15 L155.45,436.15 L150.85,443.95 Z" fill="#3B56B2"/>
<circle cx="150.85" cy="439.12" r="0.6" fill="#fff" fill-opacity="0.75"/>
<path d="M148.44,433.53 L157.64,433.53 L153.04,441.33 Z" fill="#3B56B2"/>
<circle cx="153.04" cy="436.5" r="0.6" fill="#fff" fill-opacity="0.75"/>
<path d="M150.45,431.79 L159.65,431.79 L155.05,439.59 Z" fill="#3B56B2"/>
<circle cx="155.05" cy="434.75" r="0.6" fill="#fff" fill-opacity="0.75"/>
<path d="M152.54,429.17 L161.74,429.17 L157.14,436.97 Z" fill="#3B56B2"/>
<circle cx="157.14" cy="432.13" r="0.6" fill="#fff" fill-opacity="0.75"/>
<path d="M154.55,426.55 L163.75,426.55 L159.15,434.35 Z" fill="#3B56B2"/>
<circle cx="159.15" cy="429.51" r="0.6" fill="#fff" fill-opacity="0.75"/>
<path d="M157.11,423.93 L166.31,423.93 L161.71,431.73 Z" fill="#3B56B2"/>
<circle cx="161.71" cy="426.89" r="0.6" fill="#fff" fill-opacity="0.75"/>
<path d="M159.57,421.31 L168.77,421.31 L164.17,429.11 Z" fill="#3B56B2"/>
<circle cx="164.17" cy="424.28" r="0.6" fill="#fff" fill-opacity="0.75"/>
<path d="M161.67,419.57 L170.87,419.57 L166.27,427.37 Z" fill="#3B56B2"/>
<circle cx="166.27" cy="422.53" r="0.6" fill="#fff" fill-opacity="0.75"/>
<path d="M163.68,417.82 L172.88,417.82 L168.28,425.62 Z" fill="#3B56B2"/>
<circle cx="168.28" cy="420.78" r="0.6" fill="#fff" fill-opacity="0.75"/>
<path d="M166.23,417.82 L175.43,417.82 L170.83,425.62 Z" fill="#3B56B2"/>
<circle cx="170.83" cy="420.78" r="0.6" fill="#fff" fill-opacity="0.75"/>
<path d="M168.7,419.57 L177.9,419.57 L173.3,427.37 Z" fill="#3B56B2"/>
<circle cx="173.3" cy="422.53" r="0.6" fill="#fff" fill-opacity="0.75"/>
<path d="M171.25,419.57 L180.45,419.57 L175.85,427.37 Z" fill="#3B56B2"/>
<circle cx="175.85" cy="422.53" r="0.6" fill="#fff" fill-opacity="0.75"/>
<path d="M173.62,420.44 L182.82,420.44 L178.22,428.24 Z" fill="#3B56B2"/>
<circle cx="178.22" cy="423.4" r="0.6" fill="#fff" fill-opacity="0.75"/>
<path d="M176.72,420.44 L185.92,420.44 L181.32,428.24 Z" fill="#3B56B2"/>
<circle cx="181.32" cy="423.4" r="0.6" fill="#fff" fill-opacity="0.75"/>
<path d="M179.46,421.31 L188.66,421.31 L184.06,429.11 Z" fill="#3B56B2"/>
<circle cx="184.06" cy="424.28" r="0.6" fill="#fff" fill-opacity="0.75"/>
<path d="M182.2,421.31 L191.4,421.31 L186.8,429.11 Z" fill="#3B56B2"/>
<circle cx="186.8" cy="424.28" r="0.6" fill="#fff" fill-opacity="0.75"/>
<path d="M184.48,422.19 L193.68,422.19 L189.08,429.98 Z" fill="#3B56B2"/>
<circle cx="189.08" cy="425.15" r="0.6" fill="#fff" fill-opacity="0.75"/>
<path d="M186.76,424.8 L195.96,424.8 L191.36,432.6 Z" fill="#3B56B2"/>
<circle cx="191.36" cy="427.77" r="0.6" fill="#fff" fill-opacity="0.75"/>
<path d="M188.95,427.42 L198.15,427.42 L193.55,435.22 Z" fill="#3B56B2"/>
<circle cx="193.55" cy="430.39" r="0.6" fill="#fff" fill-opacity="0.75"/>
<path d="M191.33,430.04 L200.53,430.04 L195.93,437.84 Z" fill="#3B56B2"/>
<circle cx="195.93" cy="433.01" r="0.6" fill="#fff" fill-opacity="0.75"/>
<path d="M193.61,432.66 L202.81,432.66 L198.21,440.46 Z" fill="#3B56B2"/>
<circle cx="198.21" cy="435.62" r="0.6" fill="#fff" fill-opacity="0.75"/>
<path d="M195.89,437.03 L205.09,437.03 L200.49,444.83 Z" fill="#3B56B2"/>
<circle cx="200.49" cy="439.99" r="0.6" fill="#fff" fill-opacity="0.75"/>
<path d="M197.71,441.39 L206.91,441.39 L202.31,449.19 Z" fill="#3B56B2"/>
<circle cx="202.31" cy="444.35" r="0.6" fill="#fff" fill-opacity="0.75"/>
<path d="M199.99,444.88 L209.19,444.88 L204.59,452.68 Z" fill="#3B56B2"/>
<circle cx="204.59" cy="447.85" r="0.6" fill="#fff" fill-opacity="0.75"/>
<path d="M201.91,448.38 L211.11,448.38 L206.51,456.17 Z" fill="#3B56B2"/>
<circle cx="206.51" cy="451.34" r="0.6" fill="#fff" fill-opacity="0.75"/>
<path d="M204.1,450.99 L213.3,450.99 L208.7,458.79 Z" fill="#3B56B2"/>
<circle cx="208.7" cy="453.96" r="0.6" fill="#fff" fill-opacity="0.75"/>
<path d="M205.93,452.74 L215.12,452.74 L210.53,460.54 Z" fill="#3B56B2"/>
<circle cx="210.53" cy="455.7" r="0.6" fill="#fff" fill-opacity="0.75"/>
<path d="M41.68,442.36 L50.88,442.36 L46.28,450.16 Z" fill="#3EB04A"/>
<circle cx="46.28" cy="445.33" r="0.6" fill="#fff" fill-opacity="0.75"/>
<path d="M46.24,426.65 L55.44,426.65 L50.84,434.45 Z" fill="#3EB04A"/>
<circle cx="50.84" cy="429.61" r="0.6" fill="#fff" fill-opacity="0.75"/>
<path d="M50.8,403.08 L60,403.08 L55.4,410.88 Z" fill="#3EB04A"/>
<circle cx="55.4" cy="406.04" r="0.6" fill="#fff" fill-opacity="0.75"/>
<path d="M55.73,383.87 L64.93,383.87 L60.33,391.67 Z" fill="#3EB04A"/>
<circle cx="60.33" cy="386.84" r="0.6" fill="#fff" fill-opacity="0.75"/>
<path d="M60.65,369.91 L69.85,369.91 L65.25,377.7 Z" fill="#3EB04A"/>
<circle cx="65.25" cy="372.87" r="0.6" fill="#fff" fill-opacity="0.75"/>
<path d="M65.22,345.46 L74.42,345.46 L69.82,353.26 Z" fill="#3EB04A"/>
<circle cx="69.82" cy="348.43" r="0.6" fill="#fff" fill-opacity="0.75"/>
<path d="M69.6,328 L78.8,328 L74.2,335.8 Z" fill="#3EB04A"/>
<circle cx="74.2" cy="330.97" r="0.6" fill="#fff" fill-opacity="0.75"/>
<path d="M73.98,317.52 L83.18,317.52 L78.58,325.32 Z" fill="#3EB04A"/>
<circle cx="78.58" cy="320.49" r="0.6" fill="#fff" fill-opacity="0.75"/>
<path d="M78.54,310.54 L87.74,310.54 L83.14,318.34 Z" fill="#3EB04A"/>
<circle cx="83.14" cy="313.5" r="0.6" fill="#fff" fill-opacity="0.75"/>
<path d="M83.74,313.16 L92.94,313.16 L88.34,320.96 Z" fill="#3EB04A"/>
<circle cx="88.34" cy="316.12" r="0.6" fill="#fff" fill-opacity="0.75"/>
<path d="M87.76,328.87 L96.96,328.87 L92.36,336.67 Z" fill="#3EB04A"/>
<circle cx="92.36" cy="331.84" r="0.6" fill="#fff" fill-opacity="0.75"/>
<path d="M91.86,341.97 L101.06,341.97 L96.46,349.77 Z" fill="#3EB04A"/>
<circle cx="96.46" cy="344.93" r="0.6" fill="#fff" fill-opacity="0.75"/>
<path d="M96.7,361.18 L105.9,361.18 L101.3,368.97 Z" fill="#3EB04A"/>
<circle cx="101.3" cy="364.14" r="0.6" fill="#fff" fill-opacity="0.75"/>
<path d="M101.63,396.97 L110.83,396.97 L106.23,404.77 Z" fill="#3EB04A"/>
<circle cx="106.23" cy="399.93" r="0.6" fill="#fff" fill-opacity="0.75"/>
<path d="M105.64,414.43 L114.84,414.43 L110.24,422.23 Z" fill="#3EB04A"/>
<circle cx="110.24" cy="417.39" r="0.6" fill="#fff" fill-opacity="0.75"/>
<path d="M110.3,430.14 L119.5,430.14 L114.9,437.94 Z" fill="#3EB04A"/>
<circle cx="114.9" cy="433.11" r="0.6" fill="#fff" fill-opacity="0.75"/>
<path d="M115.31,448.48 L124.51,448.48 L119.91,456.27 Z" fill="#3EB04A"/>
<circle cx="119.91" cy="451.44" r="0.6" fill="#fff" fill-opacity="0.75"/>
<path d="M120.15,456.33 L129.35,456.33 L124.75,464.13 Z" fill="#3EB04A"/>
<circle cx="124.75" cy="459.3" r="0.6" fill="#fff" fill-opacity="0.75"/>
<path d="M122.07,456.33 L131.27,456.33 L126.67,464.13 Z" fill="#3EB04A"/>
<circle cx="126.67" cy="459.3" r="0.6" fill="#fff" fill-opacity="0.75"/>
<path d="M128,458.08 L137.2,458.08 L132.6,465.88 Z" fill="#3EB04A"/>
<circle cx="132.6" cy="461.04" r="0.6" fill="#fff" fill-opacity="0.75"/>
<path d="M132.2,448.48 L141.4,448.48 L136.8,456.27 Z" fill="#3EB04A"/>
<circle cx="136.8" cy="451.44" r="0.6" fill="#fff" fill-opacity="0.75"/>
<path d="M137.12,429.27 L146.32,429.27 L141.72,437.07 Z" fill="#3EB04A"/>
<circle cx="141.72" cy="432.23" r="0.6" fill="#fff" fill-opacity="0.75"/>
<path d="M142.05,405.7 L151.25,405.7 L146.65,413.5 Z" fill="#3EB04A"/>
<circle cx="146.65" cy="408.66" r="0.6" fill="#fff" fill-opacity="0.75"/>
<path d="M146.8,387.37 L156,387.37 L151.4,395.16 Z" fill="#3EB04A"/>
<circle cx="151.4" cy="390.33" r="0.6" fill="#fff" fill-opacity="0.75"/>
<path d="M151.18,362.05 L160.38,362.05 L155.78,369.85 Z" fill="#3EB04A"/>
<circle cx="155.78" cy="365.01" r="0.6" fill="#fff" fill-opacity="0.75"/>
<path d="M156.1,339.35 L165.3,339.35 L160.7,347.15 Z" fill="#3EB04A"/>
<circle cx="160.7" cy="342.31" r="0.6" fill="#fff" fill-opacity="0.75"/>
<path d="M160.57,329.75 L169.77,329.75 L165.17,337.55 Z" fill="#3EB04A"/>
<circle cx="165.17" cy="332.71" r="0.6" fill="#fff" fill-opacity="0.75"/>
<path d="M165.05,319.27 L174.25,319.27 L169.65,327.07 Z" fill="#3EB04A"/>
<circle cx="169.65" cy="322.24" r="0.6" fill="#fff" fill-opacity="0.75"/>
<path d="M169.52,324.51 L178.72,324.51 L174.12,332.31 Z" fill="#3EB04A"/>
<circle cx="174.12" cy="327.47" r="0.6" fill="#fff" fill-opacity="0.75"/>
<path d="M173.08,321.89 L182.28,321.89 L177.68,329.69 Z" fill="#3EB04A"/>
<circle cx="177.68" cy="324.85" r="0.6" fill="#fff" fill-opacity="0.75"/>
<path d="M178.73,329.75 L187.93,329.75 L183.33,337.55 Z" fill="#3EB04A"/>
<circle cx="183.33" cy="332.71" r="0.6" fill="#fff" fill-opacity="0.75"/>
<path d="M183.57,341.1 L192.77,341.1 L188.17,348.9 Z" fill="#3EB04A"/>
<circle cx="188.17" cy="344.06" r="0.6" fill="#fff" fill-opacity="0.75"/>
<path d="M187.95,358.56 L197.15,358.56 L192.55,366.36 Z" fill="#3EB04A"/>
<circle cx="192.55" cy="361.52" r="0.6" fill="#fff" fill-opacity="0.75"/>
<path d="M192.51,379.51 L201.71,379.51 L197.11,387.31 Z" fill="#3EB04A"/>
<circle cx="197.11" cy="382.47" r="0.6" fill="#fff" fill-opacity="0.75"/>
<path d="M196.89,400.46 L206.09,400.46 L201.49,408.26 Z" fill="#3EB04A"/>
<circle cx="201.49" cy="403.42" r="0.6" fill="#fff" fill-opacity="0.75"/>
<path d="M201.91,414.43 L211.11,414.43 L206.51,422.23 Z" fill="#3EB04A"/>
<circle cx="206.51" cy="417.39" r="0.6" fill="#fff" fill-opacity="0.75"/>
<path d="M205.93,425.78 L215.12,425.78 L210.53,433.58 Z" fill="#3EB04A"/>
<circle cx="210.53" cy="428.74" r="0.6" fill="#fff" fill-opacity="0.75"/>
<path d="M46.28,440.03 L47.1,437.91 L47.93,435.67 L48.75,433.32 L49.58,430.87 L50.4,428.32 L51.23,425.66 L52.05,422.84 L52.88,419.88 L53.7,416.82 L54.53,413.68 L55.35,410.52 L56.18,407.29 L57,403.96 L57.83,400.56 L58.66,397.13 L59.48,393.72 L60.31,390.37 L61.13,387.09 L61.96,383.86 L62.78,380.66 L63.61,377.47 L64.43,374.27 L65.26,371.04 L66.08,367.76 L66.91,364.41 L67.73,360.94 L68.56,357.42 L69.39,353.89 L70.21,350.41 L71.04,347.05 L71.86,343.86 L72.69,340.67 L73.51,337.39 L74.34,334.12 L75.16,330.97 L75.99,328.06 L76.81,325.48 L77.64,323.34 L78.46,321.72 L79.29,320.26 L80.12,318.85 L80.94,317.54 L81.77,316.36 L82.59,315.38 L83.42,314.62 L84.24,314.13 L85.07,313.96 L85.89,314.12 L86.72,314.56 L87.54,315.24 L88.37,316.12 L89.19,317.17 L90.02,318.35 L90.85,319.61 L91.67,320.93 L92.5,322.38 L93.32,324.26 L94.15,326.53 L94.97,329.13 L95.8,332.02 L96.62,335.13 L97.45,338.42 L98.27,341.83 L99.1,345.31 L99.92,349.01 L100.75,353.15 L101.58,357.65 L102.4,362.44 L103.23,367.42 L104.05,372.52 L104.88,377.65 L105.7,382.85 L106.53,388.51 L107.35,394.43 L108.18,400.35 L109,406.01 L109.83,411.16 L110.65,415.65 L111.48,419.87 L112.31,423.87 L113.13,427.68 L113.96,431.33 L114.78,434.83 L115.61,438.21 L116.43,441.5 L117.26,444.7 L118.08,447.88 L118.91,451.15 L119.73,454.42 L120.56,457.59 L121.38,460.56 L122.21,463.2 L123.04,465.43 L123.86,467.13 L124.69,468.54 L125.51,469.89 L126.34,471.06 L127.16,471.94 L127.99,472.43 L128.81,472.43 L129.64,471.94 L130.46,471.06 L131.29,469.89 L132.11,468.54 L132.94,467.13 L133.76,465.43 L134.59,463.2 L135.42,460.56 L136.24,457.59 L137.07,454.42 L137.89,451.15 L138.72,447.88 L139.54,444.7 L140.37,441.5 L141.19,438.21 L142.02,434.83 L142.84,431.33 L143.67,427.68 L144.49,423.87 L145.32,419.87 L146.15,415.65 L146.97,411.16 L147.8,406.01 L148.62,400.35 L149.45,394.43 L150.27,388.51 L151.1,382.85 L151.92,377.65 L152.75,372.52 L153.57,367.42 L154.4,362.44 L155.22,357.65 L156.05,353.15 L156.88,349.01 L157.7,345.31 L158.53,341.83 L159.35,338.42 L160.18,335.13 L161,332.02 L161.83,329.13 L162.65,326.53 L163.48,324.26 L164.3,322.38 L165.13,320.93 L165.95,319.61 L166.78,318.35 L167.61,317.17 L168.43,316.12 L169.26,315.24 L170.08,314.56 L170.91,314.12 L171.73,313.96 L172.56,314.13 L173.38,314.62 L174.21,315.38 L175.03,316.36 L175.86,317.54 L176.68,318.85 L177.51,320.26 L178.34,321.72 L179.16,323.34 L179.99,325.48 L180.81,328.06 L181.64,330.97 L182.46,334.12 L183.29,337.39 L184.11,340.67 L184.94,343.86 L185.76,347.05 L186.59,350.41 L187.41,353.89 L188.24,357.42 L189.07,360.94 L189.89,364.41 L190.72,367.76 L191.54,371.04 L192.37,374.27 L193.19,377.47 L194.02,380.66 L194.84,383.86 L195.67,387.09 L196.49,390.37 L197.32,393.72 L198.14,397.13 L198.97,400.56 L199.8,403.96 L200.62,407.29 L201.45,410.52 L202.27,413.68 L203.1,416.82 L203.92,419.88 L204.75,422.84 L205.57,425.66 L206.4,428.32 L207.22,430.87 L208.05,433.32 L208.87,435.67 L209.7,437.91 L210.53,440.03" fill="none" stroke="#000" stroke-width="1.5"/>
<path d="M46.28,459.23 L47.1,458.64 L47.93,457.98 L48.75,457.27 L49.58,456.51 L50.4,455.7 L51.23,454.85 L52.05,453.97 L52.88,453.05 L53.7,452.1 L54.53,451.07 L55.35,449.95 L56.18,448.76 L57,447.52 L57.83,446.26 L58.66,444.99 L59.48,443.73 L60.31,442.42 L61.13,441.08 L61.96,439.72 L62.78,438.37 L63.61,437.06 L64.43,435.8 L65.26,434.59 L66.08,433.39 L66.91,432.22 L67.73,431.08 L68.56,429.95 L69.39,428.86 L70.21,427.8 L71.04,426.78 L71.86,425.73 L72.69,424.66 L73.51,423.62 L74.34,422.65 L75.16,421.79 L75.99,421.09 L76.81,420.56 L77.64,420.07 L78.46,419.6 L79.29,419.16 L80.12,418.79 L80.94,418.5 L81.77,418.29 L82.59,418.2 L83.42,418.22 L84.24,418.29 L85.07,418.41 L85.89,418.57 L86.72,418.77 L87.54,419 L88.37,419.25 L89.19,419.52 L90.02,419.88 L90.85,420.4 L91.67,421.03 L92.5,421.77 L93.32,422.59 L94.15,423.45 L94.97,424.35 L95.8,425.33 L96.62,426.49 L97.45,427.79 L98.27,429.17 L99.1,430.61 L99.92,432.05 L100.75,433.46 L101.58,434.81 L102.4,436.17 L103.23,437.53 L104.05,438.9 L104.88,440.28 L105.7,441.66 L106.53,443.06 L107.35,444.47 L108.18,445.88 L109,447.32 L109.83,448.8 L110.65,450.31 L111.48,451.84 L112.31,453.38 L113.13,454.91 L113.96,456.43 L114.78,457.92 L115.61,459.38 L116.43,460.79 L117.26,462.13 L118.08,463.43 L118.91,464.76 L119.73,466.09 L120.56,467.35 L121.38,468.5 L122.21,469.48 L123.04,470.23 L123.86,470.9 L124.69,471.54 L125.51,472.12 L126.34,472.61 L127.16,472.98 L127.99,473.17 L128.81,473.17 L129.64,472.98 L130.46,472.61 L131.29,472.12 L132.11,471.54 L132.94,470.9 L133.76,470.23 L134.59,469.48 L135.42,468.5 L136.24,467.35 L137.07,466.09 L137.89,464.76 L138.72,463.43 L139.54,462.13 L140.37,460.79 L141.19,459.38 L142.02,457.92 L142.84,456.43 L143.67,454.91 L144.49,453.38 L145.32,451.84 L146.15,450.31 L146.97,448.8 L147.8,447.32 L148.62,445.88 L149.45,444.47 L150.27,443.06 L151.1,441.66 L151.92,440.28 L152.75,438.9 L153.57,437.53 L154.4,436.17 L155.22,434.81 L156.05,433.46 L156.88,432.05 L157.7,430.61 L158.53,429.17 L159.35,427.79 L160.18,426.49 L161,425.33 L161.83,424.35 L162.65,423.45 L163.48,422.59 L164.3,421.77 L165.13,421.03 L165.95,420.4 L166.78,419.88 L167.61,419.52 L168.43,419.25 L169.26,419 L170.08,418.77 L170.91,418.57 L171.73,418.41 L172.56,418.29 L173.38,418.22 L174.21,418.2 L175.03,418.29 L175.86,418.5 L176.68,418.79 L177.51,419.16 L178.34,419.6 L179.16,420.07 L179.99,420.56 L180.81,421.09 L181.64,421.79 L182.46,422.65 L183.29,423.62 L184.11,424.66 L184.94,425.73 L185.76,426.78 L186.59,427.8 L187.41,428.86 L188.24,429.95 L189.07,431.08 L189.89,432.22 L190.72,433.39 L191.54,434.59 L192.37,435.8 L193.19,437.06 L194.02,438.37 L194.84,439.72 L195.67,441.08 L196.49,442.42 L197.32,443.73 L198.14,444.99 L198.97,446.26 L199.8,447.52 L200.62,448.76 L201.45,449.95 L202.27,451.07 L203.1,452.1 L203.92,453.05 L204.75,453.97 L205.57,454.85 L206.4,455.7 L207.22,456.51 L208.05,457.27 L208.87,457.98 L209.7,458.64 L210.53,459.23" fill="none" stroke="#000" stroke-width="1.5"/>
</g>
<g clip-path="url(#cD2)">
<path d="M40.61,552.2 L49.81,552.2 L45.21,560 Z" fill="#3B56B2"/>
<circle cx="45.21" cy="555.16" r="0.6" fill="#fff" fill-opacity="0.75"/>
<path d="M45.11,550.91 L54.31,550.91 L49.71,558.71 Z" fill="#3B56B2"/>
<circle cx="49.71" cy="553.88" r="0.6" fill="#fff" fill-opacity="0.75"/>
<path d="M50.25,548.99 L59.45,548.99 L54.85,556.79 Z" fill="#3B56B2"/>
<circle cx="54.85" cy="551.95" r="0.6" fill="#fff" fill-opacity="0.75"/>
<path d="M54.74,550.27 L63.94,550.27 L59.34,558.07 Z" fill="#3B56B2"/>
<circle cx="59.34" cy="553.24" r="0.6" fill="#fff" fill-opacity="0.75"/>
<path d="M59.24,551.56 L68.44,551.56 L63.84,559.36 Z" fill="#3B56B2"/>
<circle cx="63.84" cy="554.52" r="0.6" fill="#fff" fill-opacity="0.75"/>
<path d="M64.38,552.2 L73.58,552.2 L68.98,560 Z" fill="#3B56B2"/>
<circle cx="68.98" cy="555.16" r="0.6" fill="#fff" fill-opacity="0.75"/>
<path d="M68.87,552.2 L78.07,552.2 L73.47,560 Z" fill="#3B56B2"/>
<circle cx="73.47" cy="555.16" r="0.6" fill="#fff" fill-opacity="0.75"/>
<path d="M73.37,551.56 L82.57,551.56 L77.97,559.36 Z" fill="#3B56B2"/>
<circle cx="77.97" cy="554.52" r="0.6" fill="#fff" fill-opacity="0.75"/>
<path d="M77.23,550.91 L86.43,550.91 L81.83,558.71 Z" fill="#3B56B2"/>
<circle cx="81.83" cy="553.88" r="0.6" fill="#fff" fill-opacity="0.75"/>
<path d="M81.72,552.84 L90.92,552.84 L86.32,560.64 Z" fill="#3B56B2"/>
<circle cx="86.32" cy="555.81" r="0.6" fill="#fff" fill-opacity="0.75"/>
<path d="M86.22,554.77 L95.42,554.77 L90.82,562.57 Z" fill="#3B56B2"/>
<circle cx="90.82" cy="557.73" r="0.6" fill="#fff" fill-opacity="0.75"/>
<path d="M90.71,556.05 L99.91,556.05 L95.31,563.85 Z" fill="#3B56B2"/>
<circle cx="95.31" cy="559.02" r="0.6" fill="#fff" fill-opacity="0.75"/>
<path d="M95.85,557.98 L105.05,557.98 L100.45,565.78 Z" fill="#3B56B2"/>
<circle cx="100.45" cy="560.94" r="0.6" fill="#fff" fill-opacity="0.75"/>
<path d="M100.35,559.26 L109.55,559.26 L104.95,567.06 Z" fill="#3B56B2"/>
<circle cx="104.95" cy="562.23" r="0.6" fill="#fff" fill-opacity="0.75"/>
<path d="M104.85,559.26 L114.05,559.26 L109.45,567.06 Z" fill="#3B56B2"/>
<circle cx="109.45" cy="562.23" r="0.6" fill="#fff" fill-opacity="0.75"/>
<path d="M109.34,557.98 L118.54,557.98 L113.94,565.78 Z" fill="#3B56B2"/>
<circle cx="113.94" cy="560.94" r="0.6" fill="#fff" fill-opacity="0.75"/>
<path d="M114.48,557.98 L123.68,557.98 L119.08,565.78 Z" fill="#3B56B2"/>
<circle cx="119.08" cy="560.94" r="0.6" fill="#fff" fill-opacity="0.75"/>
<path d="M119.62,557.98 L128.82,557.98 L124.22,565.78 Z" fill="#3B56B2"/>
<circle cx="124.22" cy="560.94" r="0.6" fill="#fff" fill-opacity="0.75"/>
<path d="M120.4,558.04 L129.6,558.04 L125,565.84 Z" fill="#3B56B2"/>
<circle cx="125" cy="561" r="0.6" fill="#fff" fill-opacity="0.75"/>
<path d="M128.28,560.01 L137.48,560.01 L132.88,567.81 Z" fill="#3B56B2"/>
<circle cx="132.88" cy="562.97" r="0.6" fill="#fff" fill-opacity="0.75"/>
<path d="M132.88,557.38 L142.08,557.38 L137.48,565.18 Z" fill="#3B56B2"/>
<circle cx="137.48" cy="560.35" r="0.6" fill="#fff" fill-opacity="0.75"/>
<path d="M137.48,555.41 L146.68,555.41 L142.08,563.21 Z" fill="#3B56B2"/>
<circle cx="142.08" cy="558.38" r="0.6" fill="#fff" fill-opacity="0.75"/>
<path d="M141.42,555.41 L150.62,555.41 L146.02,563.21 Z" fill="#3B56B2"/>
<circle cx="146.02" cy="558.38" r="0.6" fill="#fff" fill-opacity="0.75"/>
<path d="M146.68,558.04 L155.88,558.04 L151.28,565.84 Z" fill="#3B56B2"/>
<circle cx="151.28" cy="561" r="0.6" fill="#fff" fill-opacity="0.75"/>
<path d="M150.62,554.1 L159.82,554.1 L155.22,561.9 Z" fill="#3B56B2"/>
<circle cx="155.22" cy="557.06" r="0.6" fill="#fff" fill-opacity="0.75"/>
<path d="M155.22,553.44 L164.42,553.44 L159.82,561.24 Z" fill="#3B56B2"/>
<circle cx="159.82" cy="556.4" r="0.6" fill="#fff" fill-opacity="0.75"/>
<path d="M159.82,552.13 L169.02,552.13 L164.42,559.93 Z" fill="#3B56B2"/>
<circle cx="164.42" cy="555.09" r="0.6" fill="#fff" fill-opacity="0.75"/>
<path d="M164.42,551.47 L173.62,551.47 L169.02,559.27 Z" fill="#3B56B2"/>
<circle cx="169.02" cy="554.43" r="0.6" fill="#fff" fill-opacity="0.75"/>
<path d="M169.67,553.44 L178.87,553.44 L174.27,561.24 Z" fill="#3B56B2"/>
<circle cx="174.27" cy="556.4" r="0.6" fill="#fff" fill-opacity="0.75"/>
<path d="M174.27,550.81 L183.47,550.81 L178.87,558.61 Z" fill="#3B56B2"/>
<circle cx="178.87" cy="553.78" r="0.6" fill="#fff" fill-opacity="0.75"/>
<path d="M178.87,549.5 L188.07,549.5 L183.47,557.3 Z" fill="#3B56B2"/>
<circle cx="183.47" cy="552.46" r="0.6" fill="#fff" fill-opacity="0.75"/>
<path d="M183.47,548.18 L192.67,548.18 L188.07,555.98 Z" fill="#3B56B2"/>
<circle cx="188.07" cy="551.15" r="0.6" fill="#fff" fill-opacity="0.75"/>
<path d="M188.07,547.53 L197.27,547.53 L192.67,555.33 Z" fill="#3B56B2"/>
<circle cx="192.67" cy="550.49" r="0.6" fill="#fff" fill-opacity="0.75"/>
<path d="M192.66,549.5 L201.86,549.5 L197.26,557.3 Z" fill="#3B56B2"/>
<circle cx="197.26" cy="552.46" r="0.6" fill="#fff" fill-opacity="0.75"/>
<path d="M197.26,549.5 L206.46,549.5 L201.86,557.3 Z" fill="#3B56B2"/>
<circle cx="201.86" cy="552.46" r="0.6" fill="#fff" fill-opacity="0.75"/>
<path d="M201.86,549.5 L211.06,549.5 L206.46,557.3 Z" fill="#3B56B2"/>
<circle cx="206.46" cy="552.46" r="0.6" fill="#fff" fill-opacity="0.75"/>
<path d="M206.46,549.5 L215.66,549.5 L211.06,557.3 Z" fill="#3B56B2"/>
<circle cx="211.06" cy="552.46" r="0.6" fill="#fff" fill-opacity="0.75"/>
<path d="M41.25,537.43 L50.45,537.43 L45.85,545.23 Z" fill="#3EB04A"/>
<circle cx="45.85" cy="540.39" r="0.6" fill="#fff" fill-opacity="0.75"/>
<path d="M45.75,534.21 L54.95,534.21 L50.35,542.01 Z" fill="#3EB04A"/>
<circle cx="50.35" cy="537.18" r="0.6" fill="#fff" fill-opacity="0.75"/>
<path d="M50.25,530.36 L59.45,530.36 L54.85,538.16 Z" fill="#3EB04A"/>
<circle cx="54.85" cy="533.32" r="0.6" fill="#fff" fill-opacity="0.75"/>
<path d="M54.74,528.43 L63.94,528.43 L59.34,536.23 Z" fill="#3EB04A"/>
<circle cx="59.34" cy="531.4" r="0.6" fill="#fff" fill-opacity="0.75"/>
<path d="M59.24,527.79 L68.44,527.79 L63.84,535.59 Z" fill="#3EB04A"/>
<circle cx="63.84" cy="530.75" r="0.6" fill="#fff" fill-opacity="0.75"/>
<path d="M63.74,526.51 L72.94,526.51 L68.34,534.31 Z" fill="#3EB04A"/>
<circle cx="68.34" cy="529.47" r="0.6" fill="#fff" fill-opacity="0.75"/>
<path d="M68.23,523.29 L77.43,523.29 L72.83,531.09 Z" fill="#3EB04A"/>
<circle cx="72.83" cy="526.26" r="0.6" fill="#fff" fill-opacity="0.75"/>
<path d="M72.09,523.29 L81.29,523.29 L76.69,531.09 Z" fill="#3EB04A"/>
<circle cx="76.69" cy="526.26" r="0.6" fill="#fff" fill-opacity="0.75"/>
<path d="M74.66,525.22 L83.86,525.22 L79.26,533.02 Z" fill="#3EB04A"/>
<circle cx="79.26" cy="528.18" r="0.6" fill="#fff" fill-opacity="0.75"/>
<path d="M78.51,528.43 L87.71,528.43 L83.11,536.23 Z" fill="#3EB04A"/>
<circle cx="83.11" cy="531.4" r="0.6" fill="#fff" fill-opacity="0.75"/>
<path d="M83.65,532.93 L92.85,532.93 L88.25,540.73 Z" fill="#3EB04A"/>
<circle cx="88.25" cy="535.89" r="0.6" fill="#fff" fill-opacity="0.75"/>
<path d="M88.15,536.14 L97.35,536.14 L92.75,543.94 Z" fill="#3EB04A"/>
<circle cx="92.75" cy="539.1" r="0.6" fill="#fff" fill-opacity="0.75"/>
<path d="M92.64,541.28 L101.84,541.28 L97.24,549.08 Z" fill="#3EB04A"/>
<circle cx="97.24" cy="544.24" r="0.6" fill="#fff" fill-opacity="0.75"/>
<path d="M97.14,545.78 L106.34,545.78 L101.74,553.58 Z" fill="#3EB04A"/>
<circle cx="101.74" cy="548.74" r="0.6" fill="#fff" fill-opacity="0.75"/>
<path d="M102.92,550.91 L112.12,550.91 L107.52,558.71 Z" fill="#3EB04A"/>
<circle cx="107.52" cy="553.88" r="0.6" fill="#fff" fill-opacity="0.75"/>
<path d="M107.42,554.13 L116.62,554.13 L112.02,561.93 Z" fill="#3EB04A"/>
<circle cx="112.02" cy="557.09" r="0.6" fill="#fff" fill-opacity="0.75"/>
<path d="M111.91,555.41 L121.11,555.41 L116.51,563.21 Z" fill="#3EB04A"/>
<circle cx="116.51" cy="558.37" r="0.6" fill="#fff" fill-opacity="0.75"/>
<path d="M115.77,557.98 L124.97,557.98 L120.37,565.78 Z" fill="#3EB04A"/>
<circle cx="120.37" cy="560.94" r="0.6" fill="#fff" fill-opacity="0.75"/>
<path d="M119.62,560.55 L128.82,560.55 L124.22,568.35 Z" fill="#3EB04A"/>
<circle cx="124.22" cy="563.51" r="0.6" fill="#fff" fill-opacity="0.75"/>
<path d="M125.66,556.72 L134.86,556.72 L130.26,564.52 Z" fill="#3EB04A"/>
<circle cx="130.26" cy="559.69" r="0.6" fill="#fff" fill-opacity="0.75"/>
<path d="M130.25,556.07 L139.45,556.07 L134.85,563.87 Z" fill="#3EB04A"/>
<circle cx="134.85" cy="559.03" r="0.6" fill="#fff" fill-opacity="0.75"/>
<path d="M134.85,554.75 L144.05,554.75 L139.45,562.55 Z" fill="#3EB04A"/>
<circle cx="139.45" cy="557.72" r="0.6" fill="#fff" fill-opacity="0.75"/>
<path d="M140.11,552.13 L149.31,552.13 L144.71,559.93 Z" fill="#3EB04A"/>
<circle cx="144.71" cy="555.09" r="0.6" fill="#fff" fill-opacity="0.75"/>
<path d="M145.36,548.18 L154.56,548.18 L149.96,555.98 Z" fill="#3EB04A"/>
<circle cx="149.96" cy="551.15" r="0.6" fill="#fff" fill-opacity="0.75"/>
<path d="M150.62,544.24 L159.82,544.24 L155.22,552.04 Z" fill="#3EB04A"/>
<circle cx="155.22" cy="547.21" r="0.6" fill="#fff" fill-opacity="0.75"/>
<path d="M155.22,540.3 L164.42,540.3 L159.82,548.1 Z" fill="#3EB04A"/>
<circle cx="159.82" cy="543.27" r="0.6" fill="#fff" fill-opacity="0.75"/>
<path d="M159.82,536.36 L169.02,536.36 L164.42,544.16 Z" fill="#3EB04A"/>
<circle cx="164.42" cy="539.32" r="0.6" fill="#fff" fill-opacity="0.75"/>
<path d="M164.42,533.07 L173.62,533.07 L169.02,540.87 Z" fill="#3EB04A"/>
<circle cx="169.02" cy="536.04" r="0.6" fill="#fff" fill-opacity="0.75"/>
<path d="M169.01,531.1 L178.21,531.1 L173.61,538.9 Z" fill="#3EB04A"/>
<circle cx="173.61" cy="534.07" r="0.6" fill="#fff" fill-opacity="0.75"/>
<path d="M174.27,526.51 L183.47,526.51 L178.87,534.31 Z" fill="#3EB04A"/>
<circle cx="178.87" cy="529.47" r="0.6" fill="#fff" fill-opacity="0.75"/>
<path d="M178.87,527.82 L188.07,527.82 L183.47,535.62 Z" fill="#3EB04A"/>
<circle cx="183.47" cy="530.78" r="0.6" fill="#fff" fill-opacity="0.75"/>
<path d="M183.47,523.22 L192.67,523.22 L188.07,531.02 Z" fill="#3EB04A"/>
<circle cx="188.07" cy="526.18" r="0.6" fill="#fff" fill-opacity="0.75"/>
<path d="M188.07,522.56 L197.27,522.56 L192.67,530.36 Z" fill="#3EB04A"/>
<circle cx="192.67" cy="525.53" r="0.6" fill="#fff" fill-opacity="0.75"/>
<path d="M192.01,522.56 L201.21,522.56 L196.61,530.36 Z" fill="#3EB04A"/>
<circle cx="196.61" cy="525.53" r="0.6" fill="#fff" fill-opacity="0.75"/>
<path d="M195.95,523.88 L205.15,523.88 L200.55,531.68 Z" fill="#3EB04A"/>
<circle cx="200.55" cy="526.84" r="0.6" fill="#fff" fill-opacity="0.75"/>
<path d="M201.2,529.13 L210.4,529.13 L205.8,536.93 Z" fill="#3EB04A"/>
<circle cx="205.8" cy="532.1" r="0.6" fill="#fff" fill-opacity="0.75"/>
<path d="M205.8,527.16 L215,527.16 L210.4,534.96 Z" fill="#3EB04A"/>
<circle cx="210.4" cy="530.13" r="0.6" fill="#fff" fill-opacity="0.75"/>
<path d="M46.28,531.9 L47.1,531.59 L47.93,531.29 L48.75,531 L49.58,530.73 L50.4,530.47 L51.23,530.22 L52.05,529.98 L52.88,529.76 L53.7,529.56 L54.53,529.38 L55.35,529.22 L56.18,529.08 L57,528.95 L57.83,528.85 L58.66,528.74 L59.48,528.64 L60.31,528.55 L61.13,528.47 L61.96,528.39 L62.78,528.33 L63.61,528.28 L64.43,528.25 L65.26,528.25 L66.08,528.28 L66.91,528.37 L67.73,528.51 L68.56,528.68 L69.39,528.89 L70.21,529.12 L71.04,529.37 L71.86,529.63 L72.69,529.89 L73.51,530.16 L74.34,530.43 L75.16,530.74 L75.99,531.08 L76.81,531.45 L77.64,531.85 L78.46,532.26 L79.29,532.7 L80.12,533.14 L80.94,533.59 L81.77,534.07 L82.59,534.57 L83.42,535.09 L84.24,535.64 L85.07,536.21 L85.89,536.8 L86.72,537.4 L87.54,538 L88.37,538.63 L89.19,539.28 L90.02,539.95 L90.85,540.64 L91.67,541.34 L92.5,542.05 L93.32,542.76 L94.15,543.48 L94.97,544.21 L95.8,544.96 L96.62,545.72 L97.45,546.48 L98.27,547.25 L99.1,548.01 L99.92,548.76 L100.75,549.51 L101.58,550.24 L102.4,550.98 L103.23,551.72 L104.05,552.46 L104.88,553.2 L105.7,553.92 L106.53,554.63 L107.35,555.31 L108.18,555.96 L109,556.58 L109.83,557.17 L110.65,557.75 L111.48,558.32 L112.31,558.86 L113.13,559.38 L113.96,559.88 L114.78,560.35 L115.61,560.79 L116.43,561.22 L117.26,561.65 L118.08,562.06 L118.91,562.44 L119.73,562.77 L120.56,563.04 L121.38,563.24 L122.21,563.42 L123.04,563.58 L123.86,563.74 L124.69,563.88 L125.51,564 L126.34,564.09 L127.16,564.16 L127.99,564.2 L128.81,564.2 L129.64,564.16 L130.46,564.09 L131.29,564 L132.11,563.88 L132.94,563.74 L133.76,563.58 L134.59,563.42 L135.42,563.24 L136.24,563.04 L137.07,562.77 L137.89,562.44 L138.72,562.06 L139.54,561.65 L140.37,561.22 L141.19,560.79 L142.02,560.35 L142.84,559.88 L143.67,559.38 L144.49,558.86 L145.32,558.32 L146.15,557.75 L146.97,557.17 L147.8,556.58 L148.62,555.96 L149.45,555.31 L150.27,554.63 L151.1,553.92 L151.92,553.2 L152.75,552.46 L153.57,551.72 L154.4,550.98 L155.22,550.24 L156.05,549.51 L156.88,548.76 L157.7,548.01 L158.53,547.25 L159.35,546.48 L160.18,545.72 L161,544.96 L161.83,544.21 L162.65,543.48 L163.48,542.76 L164.3,542.05 L165.13,541.34 L165.95,540.64 L166.78,539.95 L167.61,539.28 L168.43,538.63 L169.26,538 L170.08,537.4 L170.91,536.8 L171.73,536.21 L172.56,535.64 L173.38,535.09 L174.21,534.57 L175.03,534.07 L175.86,533.59 L176.68,533.14 L177.51,532.7 L178.34,532.26 L179.16,531.85 L179.99,531.45 L180.81,531.08 L181.64,530.74 L182.46,530.43 L183.29,530.16 L184.11,529.89 L184.94,529.63 L185.76,529.37 L186.59,529.12 L187.41,528.89 L188.24,528.68 L189.07,528.51 L189.89,528.37 L190.72,528.28 L191.54,528.25 L192.37,528.25 L193.19,528.28 L194.02,528.33 L194.84,528.39 L195.67,528.47 L196.49,528.55 L197.32,528.64 L198.14,528.74 L198.97,528.85 L199.8,528.95 L200.62,529.08 L201.45,529.22 L202.27,529.38 L203.1,529.56 L203.92,529.76 L204.75,529.98 L205.57,530.22 L206.4,530.47 L207.22,530.73 L208.05,531 L208.87,531.29 L209.7,531.59 L210.53,531.9" fill="none" stroke="#000" stroke-width="1.5"/>
<path d="M46.28,550.6 L47.1,550.47 L47.93,550.34 L48.75,550.23 L49.58,550.13 L50.4,550.03 L51.23,549.95 L52.05,549.87 L52.88,549.81 L53.7,549.75 L54.53,549.7 L55.35,549.66 L56.18,549.63 L57,549.6 L57.83,549.59 L58.66,549.58 L59.48,549.58 L60.31,549.6 L61.13,549.63 L61.96,549.67 L62.78,549.72 L63.61,549.78 L64.43,549.84 L65.26,549.91 L66.08,549.98 L66.91,550.06 L67.73,550.15 L68.56,550.27 L69.39,550.4 L70.21,550.54 L71.04,550.69 L71.86,550.86 L72.69,551.03 L73.51,551.2 L74.34,551.38 L75.16,551.55 L75.99,551.73 L76.81,551.92 L77.64,552.12 L78.46,552.33 L79.29,552.54 L80.12,552.76 L80.94,552.99 L81.77,553.22 L82.59,553.45 L83.42,553.68 L84.24,553.9 L85.07,554.13 L85.89,554.35 L86.72,554.57 L87.54,554.79 L88.37,555.01 L89.19,555.24 L90.02,555.46 L90.85,555.7 L91.67,555.93 L92.5,556.18 L93.32,556.43 L94.15,556.68 L94.97,556.96 L95.8,557.24 L96.62,557.54 L97.45,557.84 L98.27,558.14 L99.1,558.43 L99.92,558.73 L100.75,559.01 L101.58,559.28 L102.4,559.56 L103.23,559.84 L104.05,560.12 L104.88,560.4 L105.7,560.67 L106.53,560.93 L107.35,561.17 L108.18,561.39 L109,561.6 L109.83,561.78 L110.65,561.95 L111.48,562.12 L112.31,562.28 L113.13,562.43 L113.96,562.58 L114.78,562.71 L115.61,562.85 L116.43,562.97 L117.26,563.09 L118.08,563.2 L118.91,563.31 L119.73,563.41 L120.56,563.51 L121.38,563.61 L122.21,563.72 L123.04,563.82 L123.86,563.91 L124.69,564 L125.51,564.07 L126.34,564.13 L127.16,564.17 L127.99,564.2 L128.81,564.2 L129.64,564.17 L130.46,564.13 L131.29,564.07 L132.11,564 L132.94,563.91 L133.76,563.82 L134.59,563.72 L135.42,563.61 L136.24,563.51 L137.07,563.41 L137.89,563.31 L138.72,563.2 L139.54,563.09 L140.37,562.97 L141.19,562.85 L142.02,562.71 L142.84,562.58 L143.67,562.43 L144.49,562.28 L145.32,562.12 L146.15,561.95 L146.97,561.78 L147.8,561.6 L148.62,561.39 L149.45,561.17 L150.27,560.93 L151.1,560.67 L151.92,560.4 L152.75,560.12 L153.57,559.84 L154.4,559.56 L155.22,559.28 L156.05,559.01 L156.88,558.73 L157.7,558.43 L158.53,558.14 L159.35,557.84 L160.18,557.54 L161,557.24 L161.83,556.96 L162.65,556.68 L163.48,556.43 L164.3,556.18 L165.13,555.93 L165.95,555.7 L166.78,555.46 L167.61,555.24 L168.43,555.01 L169.26,554.79 L170.08,554.57 L170.91,554.35 L171.73,554.13 L172.56,553.9 L173.38,553.68 L174.21,553.45 L175.03,553.22 L175.86,552.99 L176.68,552.76 L177.51,552.54 L178.34,552.33 L179.16,552.12 L179.99,551.92 L180.81,551.73 L181.64,551.55 L182.46,551.38 L183.29,551.2 L184.11,551.03 L184.94,550.86 L185.76,550.69 L186.59,550.54 L187.41,550.4 L188.24,550.27 L189.07,550.15 L189.89,550.06 L190.72,549.98 L191.54,549.91 L192.37,549.84 L193.19,549.78 L194.02,549.72 L194.84,549.67 L195.67,549.63 L196.49,549.6 L197.32,549.58 L198.14,549.58 L198.97,549.59 L199.8,549.6 L200.62,549.63 L201.45,549.66 L202.27,549.7 L203.1,549.75 L203.92,549.81 L204.75,549.87 L205.57,549.95 L206.4,550.03 L207.22,550.13 L208.05,550.23 L208.87,550.34 L209.7,550.47 L210.53,550.6" fill="none" stroke="#000" stroke-width="1.5"/>
</g>
<path d="M42.8,207.4 L214.4,207.4 L214.4,477.5 L42.8,477.5 Z" fill="none" stroke="#2a2a2a" stroke-width="1.15"/>
<path d="M42.8,479.1 L214.4,479.1 L214.4,567.7 L42.8,567.7 Z" fill="none" stroke="#2a2a2a" stroke-width="1.15"/>
<line x1="55.4" y1="207.4" x2="55.4" y2="214.4" stroke="#3a3a3a" stroke-width="1" />
<line x1="91.9" y1="207.4" x2="91.9" y2="214.4" stroke="#3a3a3a" stroke-width="1" />
<line x1="128.4" y1="207.4" x2="128.4" y2="214.4" stroke="#3a3a3a" stroke-width="1" />
<line x1="164.9" y1="207.4" x2="164.9" y2="214.4" stroke="#3a3a3a" stroke-width="1" />
<line x1="201.4" y1="207.4" x2="201.4" y2="214.4" stroke="#3a3a3a" stroke-width="1" />
<line x1="73.65" y1="207.4" x2="73.65" y2="211" stroke="#3a3a3a" stroke-width="1" />
<line x1="110.15" y1="207.4" x2="110.15" y2="211" stroke="#3a3a3a" stroke-width="1" />
<line x1="146.65" y1="207.4" x2="146.65" y2="211" stroke="#3a3a3a" stroke-width="1" />
<line x1="183.15" y1="207.4" x2="183.15" y2="211" stroke="#3a3a3a" stroke-width="1" />
<line x1="55.4" y1="477.5" x2="55.4" y2="470.5" stroke="#3a3a3a" stroke-width="1" />
<line x1="91.9" y1="477.5" x2="91.9" y2="470.5" stroke="#3a3a3a" stroke-width="1" />
<line x1="128.4" y1="477.5" x2="128.4" y2="470.5" stroke="#3a3a3a" stroke-width="1" />
<line x1="164.9" y1="477.5" x2="164.9" y2="470.5" stroke="#3a3a3a" stroke-width="1" />
<line x1="201.4" y1="477.5" x2="201.4" y2="470.5" stroke="#3a3a3a" stroke-width="1" />
<line x1="73.65" y1="477.5" x2="73.65" y2="473.9" stroke="#3a3a3a" stroke-width="1" />
<line x1="110.15" y1="477.5" x2="110.15" y2="473.9" stroke="#3a3a3a" stroke-width="1" />
<line x1="146.65" y1="477.5" x2="146.65" y2="473.9" stroke="#3a3a3a" stroke-width="1" />
<line x1="183.15" y1="477.5" x2="183.15" y2="473.9" stroke="#3a3a3a" stroke-width="1" />
<line x1="55.4" y1="567.7" x2="55.4" y2="560.7" stroke="#3a3a3a" stroke-width="1" />
<line x1="91.9" y1="567.7" x2="91.9" y2="560.7" stroke="#3a3a3a" stroke-width="1" />
<line x1="128.4" y1="567.7" x2="128.4" y2="560.7" stroke="#3a3a3a" stroke-width="1" />
<line x1="164.9" y1="567.7" x2="164.9" y2="560.7" stroke="#3a3a3a" stroke-width="1" />
<line x1="201.4" y1="567.7" x2="201.4" y2="560.7" stroke="#3a3a3a" stroke-width="1" />
<line x1="73.65" y1="567.7" x2="73.65" y2="564.1" stroke="#3a3a3a" stroke-width="1" />
<line x1="110.15" y1="567.7" x2="110.15" y2="564.1" stroke="#3a3a3a" stroke-width="1" />
<line x1="146.65" y1="567.7" x2="146.65" y2="564.1" stroke="#3a3a3a" stroke-width="1" />
<line x1="183.15" y1="567.7" x2="183.15" y2="564.1" stroke="#3a3a3a" stroke-width="1" />
<line x1="42.8" y1="473.2" x2="49.8" y2="473.2" stroke="#3a3a3a" stroke-width="1" />
<line x1="207.4" y1="473.2" x2="214.4" y2="473.2" stroke="#3a3a3a" stroke-width="1" />
<line x1="42.8" y1="429.55" x2="49.8" y2="429.55" stroke="#3a3a3a" stroke-width="1" />
<line x1="207.4" y1="429.55" x2="214.4" y2="429.55" stroke="#3a3a3a" stroke-width="1" />
<line x1="42.8" y1="385.9" x2="49.8" y2="385.9" stroke="#3a3a3a" stroke-width="1" />
<line x1="207.4" y1="385.9" x2="214.4" y2="385.9" stroke="#3a3a3a" stroke-width="1" />
<line x1="42.8" y1="342.25" x2="49.8" y2="342.25" stroke="#3a3a3a" stroke-width="1" />
<line x1="207.4" y1="342.25" x2="214.4" y2="342.25" stroke="#3a3a3a" stroke-width="1" />
<line x1="42.8" y1="298.6" x2="49.8" y2="298.6" stroke="#3a3a3a" stroke-width="1" />
<line x1="207.4" y1="298.6" x2="214.4" y2="298.6" stroke="#3a3a3a" stroke-width="1" />
<line x1="42.8" y1="254.95" x2="49.8" y2="254.95" stroke="#3a3a3a" stroke-width="1" />
<line x1="207.4" y1="254.95" x2="214.4" y2="254.95" stroke="#3a3a3a" stroke-width="1" />
<line x1="42.8" y1="211.3" x2="49.8" y2="211.3" stroke="#3a3a3a" stroke-width="1" />
<line x1="207.4" y1="211.3" x2="214.4" y2="211.3" stroke="#3a3a3a" stroke-width="1" />
<line x1="42.8" y1="564.2" x2="49.8" y2="564.2" stroke="#3a3a3a" stroke-width="1" />
<line x1="207.4" y1="564.2" x2="214.4" y2="564.2" stroke="#3a3a3a" stroke-width="1" />
<line x1="42.8" y1="547.2" x2="49.8" y2="547.2" stroke="#3a3a3a" stroke-width="1" />
<line x1="207.4" y1="547.2" x2="214.4" y2="547.2" stroke="#3a3a3a" stroke-width="1" />
<line x1="42.8" y1="530.2" x2="49.8" y2="530.2" stroke="#3a3a3a" stroke-width="1" />
<line x1="207.4" y1="530.2" x2="214.4" y2="530.2" stroke="#3a3a3a" stroke-width="1" />
<line x1="42.8" y1="513.2" x2="49.8" y2="513.2" stroke="#3a3a3a" stroke-width="1" />
<line x1="207.4" y1="513.2" x2="214.4" y2="513.2" stroke="#3a3a3a" stroke-width="1" />
<line x1="42.8" y1="496.2" x2="49.8" y2="496.2" stroke="#3a3a3a" stroke-width="1" />
<line x1="207.4" y1="496.2" x2="214.4" y2="496.2" stroke="#3a3a3a" stroke-width="1" />
<text transform="translate(38,478.1) scale(1,1.05)" text-anchor="end" style='font-size:13.8px;font-family:"Liberation Sans",sans-serif;' fill="#1a1a1a" stroke="#1a1a1a" stroke-width="0.12" >0.0</text>
<text transform="translate(38,434.45) scale(1,1.05)" text-anchor="end" style='font-size:13.8px;font-family:"Liberation Sans",sans-serif;' fill="#1a1a1a" stroke="#1a1a1a" stroke-width="0.12" >0.5</text>
<text transform="translate(38,390.8) scale(1,1.05)" text-anchor="end" style='font-size:13.8px;font-family:"Liberation Sans",sans-serif;' fill="#1a1a1a" stroke="#1a1a1a" stroke-width="0.12" >1.0</text>
<text transform="translate(38,347.15) scale(1,1.05)" text-anchor="end" style='font-size:13.8px;font-family:"Liberation Sans",sans-serif;' fill="#1a1a1a" stroke="#1a1a1a" stroke-width="0.12" >1.5</text>
<text transform="translate(38,303.5) scale(1,1.05)" text-anchor="end" style='font-size:13.8px;font-family:"Liberation Sans",sans-serif;' fill="#1a1a1a" stroke="#1a1a1a" stroke-width="0.12" >2.0</text>
<text transform="translate(38,259.85) scale(1,1.05)" text-anchor="end" style='font-size:13.8px;font-family:"Liberation Sans",sans-serif;' fill="#1a1a1a" stroke="#1a1a1a" stroke-width="0.12" >2.5</text>
<text transform="translate(38,216.2) scale(1,1.05)" text-anchor="end" style='font-size:13.8px;font-family:"Liberation Sans",sans-serif;' fill="#1a1a1a" stroke="#1a1a1a" stroke-width="0.12" >3.0</text>
<text transform="translate(38,569.1) scale(1,1.05)" text-anchor="end" style='font-size:13.8px;font-family:"Liberation Sans",sans-serif;' fill="#1a1a1a" stroke="#1a1a1a" stroke-width="0.12" >0.0</text>
<text transform="translate(38,552.1) scale(1,1.05)" text-anchor="end" style='font-size:13.8px;font-family:"Liberation Sans",sans-serif;' fill="#1a1a1a" stroke="#1a1a1a" stroke-width="0.12" >0.2</text>
<text transform="translate(38,535.1) scale(1,1.05)" text-anchor="end" style='font-size:13.8px;font-family:"Liberation Sans",sans-serif;' fill="#1a1a1a" stroke="#1a1a1a" stroke-width="0.12" >0.4</text>
<text transform="translate(38,518.1) scale(1,1.05)" text-anchor="end" style='font-size:13.8px;font-family:"Liberation Sans",sans-serif;' fill="#1a1a1a" stroke="#1a1a1a" stroke-width="0.12" >0.6</text>
<text transform="translate(38,501.1) scale(1,1.05)" text-anchor="end" style='font-size:13.8px;font-family:"Liberation Sans",sans-serif;' fill="#1a1a1a" stroke="#1a1a1a" stroke-width="0.12" >0.8</text>
<text transform="translate(55.4,584.6) scale(1,1.05)" text-anchor="middle" style='font-size:13.8px;font-family:"Liberation Sans",sans-serif;' fill="#1a1a1a" stroke="#1a1a1a" stroke-width="0.12" >-80</text>
<text transform="translate(91.9,584.6) scale(1,1.05)" text-anchor="middle" style='font-size:13.8px;font-family:"Liberation Sans",sans-serif;' fill="#1a1a1a" stroke="#1a1a1a" stroke-width="0.12" >-40</text>
<text transform="translate(128.4,584.6) scale(1,1.05)" text-anchor="middle" style='font-size:13.8px;font-family:"Liberation Sans",sans-serif;' fill="#1a1a1a" stroke="#1a1a1a" stroke-width="0.12" >0</text>
<text transform="translate(164.9,584.6) scale(1,1.05)" text-anchor="middle" style='font-size:13.8px;font-family:"Liberation Sans",sans-serif;' fill="#1a1a1a" stroke="#1a1a1a" stroke-width="0.12" >40</text>
<text transform="translate(201.4,584.6) scale(1,1.05)" text-anchor="middle" style='font-size:13.8px;font-family:"Liberation Sans",sans-serif;' fill="#1a1a1a" stroke="#1a1a1a" stroke-width="0.12" >80</text>
<text transform="translate(109.6,598.3) scale(1,1.05)" text-anchor="start" style='font-size:14px;font-family:"Liberation Sans",sans-serif;' fill="#1a1a1a" stroke="#1a1a1a" stroke-width="0.12" >θ (°)</text>
<text transform="translate(12.3,330.6) rotate(-90)" text-anchor="middle" style="font-size:14.5px" fill="#1a1a1a" font-family='"Liberation Sans",sans-serif'>S(θ)</text>
<text transform="translate(52,232.9) scale(1,1.05)" text-anchor="start" style='font-size:13.5px;font-family:"Liberation Sans",sans-serif;' fill="#1a1a1a" stroke="#1a1a1a" stroke-width="0.12" >NaCl [mM] =</text>
<text transform="translate(174,230.6) scale(1,1.05)" text-anchor="start" style='font-size:13.8px;font-family:"Liberation Sans",sans-serif;' fill="#1a1a1a" stroke="#1a1a1a" stroke-width="0.12" >PPP</text>
<text transform="translate(177.2,494.6) scale(1,1.05)" text-anchor="start" style='font-size:13.3px;font-family:"Liberation Sans",sans-serif;' fill="#1a1a1a" stroke="#1a1a1a" stroke-width="0.12" >PSS</text>
<path d="M68.8,243.5 L78.6,243.5 L73.7,252.1 Z" fill="#3EB04A"/>
<circle cx="73.7" cy="246.77" r="0.6" fill="#fff" fill-opacity="0.75"/>
<path d="M68.8,260.3 L78.6,260.3 L73.7,268.9 Z" fill="#3B56B2"/>
<circle cx="73.7" cy="263.57" r="0.6" fill="#fff" fill-opacity="0.75"/>
<text transform="translate(87.5,249.3) scale(1,1.05)" text-anchor="start" style='font-size:13.6px;font-family:"Liberation Sans",sans-serif;' fill="#1a1a1a" stroke="#1a1a1a" stroke-width="0.12" >0.05, -109 mV</text>
<text transform="translate(87.5,265.5) scale(1,1.05)" text-anchor="start" style='font-size:13.6px;font-family:"Liberation Sans",sans-serif;' fill="#1a1a1a" stroke="#1a1a1a" stroke-width="0.12" >0.5, -60 mV</text>
<text transform="translate(223,207.6) scale(1,1.1)" text-anchor="start" style='font-size:14.5px;font-family:"Liberation Sans",sans-serif;font-weight:bold;' fill="#000" >E</text>
<clipPath id="cE1"><rect x="263.8" y="206.8" width="171.59999999999997" height="270.2"/></clipPath>
<clipPath id="cE2"><rect x="263.8" y="477.0" width="171.59999999999997" height="90.39999999999998"/></clipPath>
<g clip-path="url(#cE1)">
<path d="M267.83,450.04 L272.39,438.05 L276.96,427.03 L281.52,410.18 L286.09,389.12 L290.65,370.01 L295.22,338.26 L299.78,314.93 L304.35,287.06 L308.92,270.22 L313.48,259.2 L318.05,266.33 L322.61,283.18 L327.18,317.52 L331.74,346.03 L336.31,382.97 L340.87,405 L345.44,417.96 L354.56,424.44 L359.13,412.78 L363.69,377.14 L368.26,344.09 L372.82,312.98 L377.39,269.57 L381.95,266.98 L386.52,264.38 L391.08,276.7 L395.65,297.43 L400.22,317.52 L404.78,335.66 L409.35,367.42 L413.91,392.04 L418.48,410.18 L423.04,428.33 L427.61,438.7 L432.17,449.06" fill="none" stroke="#4558B0" stroke-width="1.5"/>
<circle cx="267.83" cy="450.04" r="2.9" fill="#4558B0"/>
<circle cx="272.39" cy="438.05" r="2.9" fill="#4558B0"/>
<circle cx="276.96" cy="427.03" r="2.9" fill="#4558B0"/>
<circle cx="281.52" cy="410.18" r="2.9" fill="#4558B0"/>
<circle cx="286.09" cy="389.12" r="2.9" fill="#4558B0"/>
<circle cx="290.65" cy="370.01" r="2.9" fill="#4558B0"/>
<circle cx="295.22" cy="338.26" r="2.9" fill="#4558B0"/>
<circle cx="299.78" cy="314.93" r="2.9" fill="#4558B0"/>
<circle cx="304.35" cy="287.06" r="2.9" fill="#4558B0"/>
<circle cx="308.92" cy="270.22" r="2.9" fill="#4558B0"/>
<circle cx="313.48" cy="259.2" r="2.9" fill="#4558B0"/>
<circle cx="318.05" cy="266.33" r="2.9" fill="#4558B0"/>
<circle cx="322.61" cy="283.18" r="2.9" fill="#4558B0"/>
<circle cx="327.18" cy="317.52" r="2.9" fill="#4558B0"/>
<circle cx="331.74" cy="346.03" r="2.9" fill="#4558B0"/>
<circle cx="336.31" cy="382.97" r="2.9" fill="#4558B0"/>
<circle cx="340.87" cy="405" r="2.9" fill="#4558B0"/>
<circle cx="345.44" cy="417.96" r="2.9" fill="#4558B0"/>
<circle cx="354.56" cy="424.44" r="2.9" fill="#4558B0"/>
<circle cx="359.13" cy="412.78" r="2.9" fill="#4558B0"/>
<circle cx="363.69" cy="377.14" r="2.9" fill="#4558B0"/>
<circle cx="368.26" cy="344.09" r="2.9" fill="#4558B0"/>
<circle cx="372.82" cy="312.98" r="2.9" fill="#4558B0"/>
<circle cx="377.39" cy="269.57" r="2.9" fill="#4558B0"/>
<circle cx="381.95" cy="266.98" r="2.9" fill="#4558B0"/>
<circle cx="386.52" cy="264.38" r="2.9" fill="#4558B0"/>
<circle cx="391.08" cy="276.7" r="2.9" fill="#4558B0"/>
<circle cx="395.65" cy="297.43" r="2.9" fill="#4558B0"/>
<circle cx="400.22" cy="317.52" r="2.9" fill="#4558B0"/>
<circle cx="404.78" cy="335.66" r="2.9" fill="#4558B0"/>
<circle cx="409.35" cy="367.42" r="2.9" fill="#4558B0"/>
<circle cx="413.91" cy="392.04" r="2.9" fill="#4558B0"/>
<circle cx="418.48" cy="410.18" r="2.9" fill="#4558B0"/>
<circle cx="423.04" cy="428.33" r="2.9" fill="#4558B0"/>
<circle cx="427.61" cy="438.7" r="2.9" fill="#4558B0"/>
<path d="M267.83,465.26 L272.39,464.62 L276.96,463.32 L281.52,461.38 L286.09,458.78 L290.65,455.54 L295.22,451.66 L299.78,449.71 L304.35,448.42 L308.92,448.42 L313.48,447.12 L318.05,446.47 L322.61,451.01 L327.18,456.84 L331.74,458.78 L336.31,465.91 L340.87,468.5 L345.44,471.74 L354.56,473.04 L359.13,471.74 L363.69,463.32 L368.26,460.73 L372.82,456.19 L377.39,451.66 L381.95,446.47 L386.52,444.53 L391.08,446.47 L395.65,447.77 L400.22,448.42 L404.78,453.6 L409.35,454.9 L413.91,456.84 L418.48,459.43 L423.04,462.02 L427.61,463.97" fill="none" stroke="#E8202A" stroke-width="1.5"/>
<circle cx="267.83" cy="465.26" r="2.9" fill="#E8202A"/>
<circle cx="272.39" cy="464.62" r="2.9" fill="#E8202A"/>
<circle cx="276.96" cy="463.32" r="2.9" fill="#E8202A"/>
<circle cx="281.52" cy="461.38" r="2.9" fill="#E8202A"/>
<circle cx="286.09" cy="458.78" r="2.9" fill="#E8202A"/>
<circle cx="290.65" cy="455.54" r="2.9" fill="#E8202A"/>
<circle cx="295.22" cy="451.66" r="2.9" fill="#E8202A"/>
<circle cx="299.78" cy="449.71" r="2.9" fill="#E8202A"/>
<circle cx="304.35" cy="448.42" r="2.9" fill="#E8202A"/>
<circle cx="308.92" cy="448.42" r="2.9" fill="#E8202A"/>
<circle cx="313.48" cy="447.12" r="2.9" fill="#E8202A"/>
<circle cx="318.05" cy="446.47" r="2.9" fill="#E8202A"/>
<circle cx="322.61" cy="451.01" r="2.9" fill="#E8202A"/>
<circle cx="327.18" cy="456.84" r="2.9" fill="#E8202A"/>
<circle cx="331.74" cy="458.78" r="2.9" fill="#E8202A"/>
<circle cx="336.31" cy="465.91" r="2.9" fill="#E8202A"/>
<circle cx="340.87" cy="468.5" r="2.9" fill="#E8202A"/>
<circle cx="345.44" cy="471.74" r="2.9" fill="#E8202A"/>
<circle cx="354.56" cy="473.04" r="2.9" fill="#E8202A"/>
<circle cx="359.13" cy="471.74" r="2.9" fill="#E8202A"/>
<circle cx="363.69" cy="463.32" r="2.9" fill="#E8202A"/>
<circle cx="368.26" cy="460.73" r="2.9" fill="#E8202A"/>
<circle cx="372.82" cy="456.19" r="2.9" fill="#E8202A"/>
<circle cx="377.39" cy="451.66" r="2.9" fill="#E8202A"/>
<circle cx="381.95" cy="446.47" r="2.9" fill="#E8202A"/>
<circle cx="386.52" cy="444.53" r="2.9" fill="#E8202A"/>
<circle cx="391.08" cy="446.47" r="2.9" fill="#E8202A"/>
<circle cx="395.65" cy="447.77" r="2.9" fill="#E8202A"/>
<circle cx="400.22" cy="448.42" r="2.9" fill="#E8202A"/>
<circle cx="404.78" cy="453.6" r="2.9" fill="#E8202A"/>
<circle cx="409.35" cy="454.9" r="2.9" fill="#E8202A"/>
<circle cx="413.91" cy="456.84" r="2.9" fill="#E8202A"/>
<circle cx="418.48" cy="459.43" r="2.9" fill="#E8202A"/>
<circle cx="423.04" cy="462.02" r="2.9" fill="#E8202A"/>
<circle cx="427.61" cy="463.97" r="2.9" fill="#E8202A"/>
</g>
<g clip-path="url(#cE2)">
<path d="M267.83,547.62 L272.39,541.25 L276.96,535.3 L281.52,532.75 L286.09,525.1 L290.65,522.55 L295.22,518.3 L299.78,516.6 L304.35,513.62 L308.92,514.9 L313.48,516.6 L318.05,520.85 L322.61,525.95 L327.18,532.75 L331.74,542.1 L336.31,547.2 L340.87,552.3 L345.44,555.7 L354.56,555.7 L359.13,551.2 L363.69,548.9 L368.26,542.1 L372.82,536.15 L377.39,529.35 L381.95,521.7 L386.52,519.15 L391.08,516.6 L395.65,517.88 L400.22,520 L404.78,520.85 L409.35,524.25 L413.91,531.05 L418.48,533.6 L423.04,538.7 L427.61,542.1 L432.17,548.05" fill="none" stroke="#4558B0" stroke-width="1.4"/>
<circle cx="267.83" cy="547.62" r="2.5" fill="#4558B0"/>
<circle cx="272.39" cy="541.25" r="2.5" fill="#4558B0"/>
<circle cx="276.96" cy="535.3" r="2.5" fill="#4558B0"/>
<circle cx="281.52" cy="532.75" r="2.5" fill="#4558B0"/>
<circle cx="286.09" cy="525.1" r="2.5" fill="#4558B0"/>
<circle cx="290.65" cy="522.55" r="2.5" fill="#4558B0"/>
<circle cx="295.22" cy="518.3" r="2.5" fill="#4558B0"/>
<circle cx="299.78" cy="516.6" r="2.5" fill="#4558B0"/>
<circle cx="304.35" cy="513.62" r="2.5" fill="#4558B0"/>
<circle cx="308.92" cy="514.9" r="2.5" fill="#4558B0"/>
<circle cx="313.48" cy="516.6" r="2.5" fill="#4558B0"/>
<circle cx="318.05" cy="520.85" r="2.5" fill="#4558B0"/>
<circle cx="322.61" cy="525.95" r="2.5" fill="#4558B0"/>
<circle cx="327.18" cy="532.75" r="2.5" fill="#4558B0"/>
<circle cx="331.74" cy="542.1" r="2.5" fill="#4558B0"/>
<circle cx="336.31" cy="547.2" r="2.5" fill="#4558B0"/>
<circle cx="340.87" cy="552.3" r="2.5" fill="#4558B0"/>
<circle cx="345.44" cy="555.7" r="2.5" fill="#4558B0"/>
<circle cx="354.56" cy="555.7" r="2.5" fill="#4558B0"/>
<circle cx="359.13" cy="551.2" r="2.5" fill="#4558B0"/>
<circle cx="363.69" cy="548.9" r="2.5" fill="#4558B0"/>
<circle cx="368.26" cy="542.1" r="2.5" fill="#4558B0"/>
<circle cx="372.82" cy="536.15" r="2.5" fill="#4558B0"/>
<circle cx="377.39" cy="529.35" r="2.5" fill="#4558B0"/>
<circle cx="381.95" cy="521.7" r="2.5" fill="#4558B0"/>
<circle cx="386.52" cy="519.15" r="2.5" fill="#4558B0"/>
<circle cx="391.08" cy="516.6" r="2.5" fill="#4558B0"/>
<circle cx="395.65" cy="517.88" r="2.5" fill="#4558B0"/>
<circle cx="400.22" cy="520" r="2.5" fill="#4558B0"/>
<circle cx="404.78" cy="520.85" r="2.5" fill="#4558B0"/>
<circle cx="409.35" cy="524.25" r="2.5" fill="#4558B0"/>
<circle cx="413.91" cy="531.05" r="2.5" fill="#4558B0"/>
<circle cx="418.48" cy="533.6" r="2.5" fill="#4558B0"/>
<circle cx="423.04" cy="538.7" r="2.5" fill="#4558B0"/>
<circle cx="427.61" cy="542.1" r="2.5" fill="#4558B0"/>
<circle cx="432.17" cy="548.05" r="2.5" fill="#4558B0"/>
<path d="M267.83,563.01 L272.39,561.65 L276.96,560.8 L281.52,561.65 L286.09,561.65 L290.65,560.8 L295.22,559.95 L299.78,558.68 L304.35,559.1 L308.92,559.95 L313.48,559.1 L318.05,559.1 L322.61,559.95 L327.18,561.65 L331.74,561.23 L336.31,562.93 L340.87,562.5 L345.44,563.69 L350,564.2 L354.56,564.2 L359.13,563.35 L363.69,562.5 L368.26,564.2 L372.82,561.65 L377.39,560.8 L381.95,559.95 L386.52,559.1 L391.08,559.27 L395.65,559.27 L400.22,559.78 L404.78,559.1 L409.35,559.78 L413.91,559.78 L418.48,559.78 L423.04,560.8 L427.61,562.5 L432.17,562.5" fill="none" stroke="#E8202A" stroke-width="1.4"/>
<circle cx="267.83" cy="563.01" r="2.5" fill="#E8202A"/>
<circle cx="272.39" cy="561.65" r="2.5" fill="#E8202A"/>
<circle cx="276.96" cy="560.8" r="2.5" fill="#E8202A"/>
<circle cx="281.52" cy="561.65" r="2.5" fill="#E8202A"/>
<circle cx="286.09" cy="561.65" r="2.5" fill="#E8202A"/>
<circle cx="290.65" cy="560.8" r="2.5" fill="#E8202A"/>
<circle cx="295.22" cy="559.95" r="2.5" fill="#E8202A"/>
<circle cx="299.78" cy="558.68" r="2.5" fill="#E8202A"/>
<circle cx="304.35" cy="559.1" r="2.5" fill="#E8202A"/>
<circle cx="308.92" cy="559.95" r="2.5" fill="#E8202A"/>
<circle cx="313.48" cy="559.1" r="2.5" fill="#E8202A"/>
<circle cx="318.05" cy="559.1" r="2.5" fill="#E8202A"/>
<circle cx="322.61" cy="559.95" r="2.5" fill="#E8202A"/>
<circle cx="327.18" cy="561.65" r="2.5" fill="#E8202A"/>
<circle cx="331.74" cy="561.23" r="2.5" fill="#E8202A"/>
<circle cx="336.31" cy="562.93" r="2.5" fill="#E8202A"/>
<circle cx="340.87" cy="562.5" r="2.5" fill="#E8202A"/>
<circle cx="345.44" cy="563.69" r="2.5" fill="#E8202A"/>
<circle cx="350" cy="564.2" r="2.5" fill="#E8202A"/>
<circle cx="354.56" cy="564.2" r="2.5" fill="#E8202A"/>
<circle cx="359.13" cy="563.35" r="2.5" fill="#E8202A"/>
<circle cx="363.69" cy="562.5" r="2.5" fill="#E8202A"/>
<circle cx="368.26" cy="564.2" r="2.5" fill="#E8202A"/>
<circle cx="372.82" cy="561.65" r="2.5" fill="#E8202A"/>
<circle cx="377.39" cy="560.8" r="2.5" fill="#E8202A"/>
<circle cx="381.95" cy="559.95" r="2.5" fill="#E8202A"/>
<circle cx="386.52" cy="559.1" r="2.5" fill="#E8202A"/>
<circle cx="391.08" cy="559.27" r="2.5" fill="#E8202A"/>
<circle cx="395.65" cy="559.27" r="2.5" fill="#E8202A"/>
<circle cx="400.22" cy="559.78" r="2.5" fill="#E8202A"/>
<circle cx="404.78" cy="559.1" r="2.5" fill="#E8202A"/>
<circle cx="409.35" cy="559.78" r="2.5" fill="#E8202A"/>
<circle cx="413.91" cy="559.78" r="2.5" fill="#E8202A"/>
<circle cx="418.48" cy="559.78" r="2.5" fill="#E8202A"/>
<circle cx="423.04" cy="560.8" r="2.5" fill="#E8202A"/>
<circle cx="427.61" cy="562.5" r="2.5" fill="#E8202A"/>
<circle cx="432.17" cy="562.5" r="2.5" fill="#E8202A"/>
</g>
<path d="M263.8,206.8 L435.4,206.8 L435.4,477 L263.8,477 Z" fill="none" stroke="#2a2a2a" stroke-width="1.15"/>
<path d="M263.8,477 L435.4,477 L435.4,567.4 L263.8,567.4 Z" fill="none" stroke="#2a2a2a" stroke-width="1.15"/>
<line x1="276.96" y1="206.8" x2="276.96" y2="213.8" stroke="#3a3a3a" stroke-width="1" />
<line x1="313.48" y1="206.8" x2="313.48" y2="213.8" stroke="#3a3a3a" stroke-width="1" />
<line x1="350" y1="206.8" x2="350" y2="213.8" stroke="#3a3a3a" stroke-width="1" />
<line x1="386.52" y1="206.8" x2="386.52" y2="213.8" stroke="#3a3a3a" stroke-width="1" />
<line x1="423.04" y1="206.8" x2="423.04" y2="213.8" stroke="#3a3a3a" stroke-width="1" />
<line x1="267.83" y1="206.8" x2="267.83" y2="210.4" stroke="#3a3a3a" stroke-width="1" />
<line x1="286.09" y1="206.8" x2="286.09" y2="210.4" stroke="#3a3a3a" stroke-width="1" />
<line x1="295.22" y1="206.8" x2="295.22" y2="210.4" stroke="#3a3a3a" stroke-width="1" />
<line x1="304.35" y1="206.8" x2="304.35" y2="210.4" stroke="#3a3a3a" stroke-width="1" />
<line x1="322.61" y1="206.8" x2="322.61" y2="210.4" stroke="#3a3a3a" stroke-width="1" />
<line x1="331.74" y1="206.8" x2="331.74" y2="210.4" stroke="#3a3a3a" stroke-width="1" />
<line x1="340.87" y1="206.8" x2="340.87" y2="210.4" stroke="#3a3a3a" stroke-width="1" />
<line x1="359.13" y1="206.8" x2="359.13" y2="210.4" stroke="#3a3a3a" stroke-width="1" />
<line x1="368.26" y1="206.8" x2="368.26" y2="210.4" stroke="#3a3a3a" stroke-width="1" />
<line x1="377.39" y1="206.8" x2="377.39" y2="210.4" stroke="#3a3a3a" stroke-width="1" />
<line x1="395.65" y1="206.8" x2="395.65" y2="210.4" stroke="#3a3a3a" stroke-width="1" />
<line x1="404.78" y1="206.8" x2="404.78" y2="210.4" stroke="#3a3a3a" stroke-width="1" />
<line x1="413.91" y1="206.8" x2="413.91" y2="210.4" stroke="#3a3a3a" stroke-width="1" />
<line x1="432.17" y1="206.8" x2="432.17" y2="210.4" stroke="#3a3a3a" stroke-width="1" />
<line x1="276.96" y1="477" x2="276.96" y2="470" stroke="#3a3a3a" stroke-width="1" />
<line x1="313.48" y1="477" x2="313.48" y2="470" stroke="#3a3a3a" stroke-width="1" />
<line x1="350" y1="477" x2="350" y2="470" stroke="#3a3a3a" stroke-width="1" />
<line x1="386.52" y1="477" x2="386.52" y2="470" stroke="#3a3a3a" stroke-width="1" />
<line x1="423.04" y1="477" x2="423.04" y2="470" stroke="#3a3a3a" stroke-width="1" />
<line x1="267.83" y1="477" x2="267.83" y2="473.4" stroke="#3a3a3a" stroke-width="1" />
<line x1="286.09" y1="477" x2="286.09" y2="473.4" stroke="#3a3a3a" stroke-width="1" />
<line x1="295.22" y1="477" x2="295.22" y2="473.4" stroke="#3a3a3a" stroke-width="1" />
<line x1="304.35" y1="477" x2="304.35" y2="473.4" stroke="#3a3a3a" stroke-width="1" />
<line x1="322.61" y1="477" x2="322.61" y2="473.4" stroke="#3a3a3a" stroke-width="1" />
<line x1="331.74" y1="477" x2="331.74" y2="473.4" stroke="#3a3a3a" stroke-width="1" />
<line x1="340.87" y1="477" x2="340.87" y2="473.4" stroke="#3a3a3a" stroke-width="1" />
<line x1="359.13" y1="477" x2="359.13" y2="473.4" stroke="#3a3a3a" stroke-width="1" />
<line x1="368.26" y1="477" x2="368.26" y2="473.4" stroke="#3a3a3a" stroke-width="1" />
<line x1="377.39" y1="477" x2="377.39" y2="473.4" stroke="#3a3a3a" stroke-width="1" />
<line x1="395.65" y1="477" x2="395.65" y2="473.4" stroke="#3a3a3a" stroke-width="1" />
<line x1="404.78" y1="477" x2="404.78" y2="473.4" stroke="#3a3a3a" stroke-width="1" />
<line x1="413.91" y1="477" x2="413.91" y2="473.4" stroke="#3a3a3a" stroke-width="1" />
<line x1="432.17" y1="477" x2="432.17" y2="473.4" stroke="#3a3a3a" stroke-width="1" />
<line x1="276.96" y1="567.4" x2="276.96" y2="560.4" stroke="#3a3a3a" stroke-width="1" />
<line x1="313.48" y1="567.4" x2="313.48" y2="560.4" stroke="#3a3a3a" stroke-width="1" />
<line x1="350" y1="567.4" x2="350" y2="560.4" stroke="#3a3a3a" stroke-width="1" />
<line x1="386.52" y1="567.4" x2="386.52" y2="560.4" stroke="#3a3a3a" stroke-width="1" />
<line x1="423.04" y1="567.4" x2="423.04" y2="560.4" stroke="#3a3a3a" stroke-width="1" />
<line x1="267.83" y1="567.4" x2="267.83" y2="563.8" stroke="#3a3a3a" stroke-width="1" />
<line x1="286.09" y1="567.4" x2="286.09" y2="563.8" stroke="#3a3a3a" stroke-width="1" />
<line x1="295.22" y1="567.4" x2="295.22" y2="563.8" stroke="#3a3a3a" stroke-width="1" />
<line x1="304.35" y1="567.4" x2="304.35" y2="563.8" stroke="#3a3a3a" stroke-width="1" />
<line x1="322.61" y1="567.4" x2="322.61" y2="563.8" stroke="#3a3a3a" stroke-width="1" />
<line x1="331.74" y1="567.4" x2="331.74" y2="563.8" stroke="#3a3a3a" stroke-width="1" />
<line x1="340.87" y1="567.4" x2="340.87" y2="563.8" stroke="#3a3a3a" stroke-width="1" />
<line x1="359.13" y1="567.4" x2="359.13" y2="563.8" stroke="#3a3a3a" stroke-width="1" />
<line x1="368.26" y1="567.4" x2="368.26" y2="563.8" stroke="#3a3a3a" stroke-width="1" />
<line x1="377.39" y1="567.4" x2="377.39" y2="563.8" stroke="#3a3a3a" stroke-width="1" />
<line x1="395.65" y1="567.4" x2="395.65" y2="563.8" stroke="#3a3a3a" stroke-width="1" />
<line x1="404.78" y1="567.4" x2="404.78" y2="563.8" stroke="#3a3a3a" stroke-width="1" />
<line x1="413.91" y1="567.4" x2="413.91" y2="563.8" stroke="#3a3a3a" stroke-width="1" />
<line x1="432.17" y1="567.4" x2="432.17" y2="563.8" stroke="#3a3a3a" stroke-width="1" />
<line x1="263.8" y1="469.8" x2="270.8" y2="469.8" stroke="#3a3a3a" stroke-width="1" />
<line x1="428.4" y1="469.8" x2="435.4" y2="469.8" stroke="#3a3a3a" stroke-width="1" />
<line x1="263.8" y1="405" x2="270.8" y2="405" stroke="#3a3a3a" stroke-width="1" />
<line x1="428.4" y1="405" x2="435.4" y2="405" stroke="#3a3a3a" stroke-width="1" />
<line x1="263.8" y1="340.2" x2="270.8" y2="340.2" stroke="#3a3a3a" stroke-width="1" />
<line x1="428.4" y1="340.2" x2="435.4" y2="340.2" stroke="#3a3a3a" stroke-width="1" />
<line x1="263.8" y1="275.4" x2="270.8" y2="275.4" stroke="#3a3a3a" stroke-width="1" />
<line x1="428.4" y1="275.4" x2="435.4" y2="275.4" stroke="#3a3a3a" stroke-width="1" />
<line x1="263.8" y1="210.6" x2="270.8" y2="210.6" stroke="#3a3a3a" stroke-width="1" />
<line x1="428.4" y1="210.6" x2="435.4" y2="210.6" stroke="#3a3a3a" stroke-width="1" />
<line x1="263.8" y1="564.2" x2="270.8" y2="564.2" stroke="#3a3a3a" stroke-width="1" />
<line x1="428.4" y1="564.2" x2="435.4" y2="564.2" stroke="#3a3a3a" stroke-width="1" />
<line x1="263.8" y1="547.2" x2="270.8" y2="547.2" stroke="#3a3a3a" stroke-width="1" />
<line x1="428.4" y1="547.2" x2="435.4" y2="547.2" stroke="#3a3a3a" stroke-width="1" />
<line x1="263.8" y1="530.2" x2="270.8" y2="530.2" stroke="#3a3a3a" stroke-width="1" />
<line x1="428.4" y1="530.2" x2="435.4" y2="530.2" stroke="#3a3a3a" stroke-width="1" />
<line x1="263.8" y1="513.2" x2="270.8" y2="513.2" stroke="#3a3a3a" stroke-width="1" />
<line x1="428.4" y1="513.2" x2="435.4" y2="513.2" stroke="#3a3a3a" stroke-width="1" />
<line x1="263.8" y1="496.2" x2="270.8" y2="496.2" stroke="#3a3a3a" stroke-width="1" />
<line x1="428.4" y1="496.2" x2="435.4" y2="496.2" stroke="#3a3a3a" stroke-width="1" />
<text transform="translate(259.8,474.7) scale(1,1.05)" text-anchor="end" style='font-size:13.8px;font-family:"Liberation Sans",sans-serif;' fill="#1a1a1a" stroke="#1a1a1a" stroke-width="0.12" >0.0</text>
<text transform="translate(259.8,409.9) scale(1,1.05)" text-anchor="end" style='font-size:13.8px;font-family:"Liberation Sans",sans-serif;' fill="#1a1a1a" stroke="#1a1a1a" stroke-width="0.12" >1.0</text>
<text transform="translate(259.8,345.1) scale(1,1.05)" text-anchor="end" style='font-size:13.8px;font-family:"Liberation Sans",sans-serif;' fill="#1a1a1a" stroke="#1a1a1a" stroke-width="0.12" >2.0</text>
<text transform="translate(259.8,280.3) scale(1,1.05)" text-anchor="end" style='font-size:13.8px;font-family:"Liberation Sans",sans-serif;' fill="#1a1a1a" stroke="#1a1a1a" stroke-width="0.12" >3.0</text>
<text transform="translate(259.8,215.5) scale(1,1.05)" text-anchor="end" style='font-size:13.8px;font-family:"Liberation Sans",sans-serif;' fill="#1a1a1a" stroke="#1a1a1a" stroke-width="0.12" >4.0</text>
<text transform="translate(259.8,569.1) scale(1,1.05)" text-anchor="end" style='font-size:13.8px;font-family:"Liberation Sans",sans-serif;' fill="#1a1a1a" stroke="#1a1a1a" stroke-width="0.12" >0.0</text>
<text transform="translate(259.8,552.1) scale(1,1.05)" text-anchor="end" style='font-size:13.8px;font-family:"Liberation Sans",sans-serif;' fill="#1a1a1a" stroke="#1a1a1a" stroke-width="0.12" >0.2</text>
<text transform="translate(259.8,535.1) scale(1,1.05)" text-anchor="end" style='font-size:13.8px;font-family:"Liberation Sans",sans-serif;' fill="#1a1a1a" stroke="#1a1a1a" stroke-width="0.12" >0.4</text>
<text transform="translate(259.8,518.1) scale(1,1.05)" text-anchor="end" style='font-size:13.8px;font-family:"Liberation Sans",sans-serif;' fill="#1a1a1a" stroke="#1a1a1a" stroke-width="0.12" >0.6</text>
<text transform="translate(259.8,501.1) scale(1,1.05)" text-anchor="end" style='font-size:13.8px;font-family:"Liberation Sans",sans-serif;' fill="#1a1a1a" stroke="#1a1a1a" stroke-width="0.12" >0.8</text>
<text transform="translate(276.96,584.6) scale(1,1.05)" text-anchor="middle" style='font-size:13.8px;font-family:"Liberation Sans",sans-serif;' fill="#1a1a1a" stroke="#1a1a1a" stroke-width="0.12" >-80</text>
<text transform="translate(313.48,584.6) scale(1,1.05)" text-anchor="middle" style='font-size:13.8px;font-family:"Liberation Sans",sans-serif;' fill="#1a1a1a" stroke="#1a1a1a" stroke-width="0.12" >-40</text>
<text transform="translate(350,584.6) scale(1,1.05)" text-anchor="middle" style='font-size:13.8px;font-family:"Liberation Sans",sans-serif;' fill="#1a1a1a" stroke="#1a1a1a" stroke-width="0.12" >0</text>
<text transform="translate(386.52,584.6) scale(1,1.05)" text-anchor="middle" style='font-size:13.8px;font-family:"Liberation Sans",sans-serif;' fill="#1a1a1a" stroke="#1a1a1a" stroke-width="0.12" >40</text>
<text transform="translate(423.04,584.6) scale(1,1.05)" text-anchor="middle" style='font-size:13.8px;font-family:"Liberation Sans",sans-serif;' fill="#1a1a1a" stroke="#1a1a1a" stroke-width="0.12" >80</text>
<text transform="translate(334.7,600.4) scale(1,1.05)" text-anchor="start" style='font-size:15px;font-family:"Liberation Sans",sans-serif;' fill="#1a1a1a" stroke="#1a1a1a" stroke-width="0.12" >θ (°)</text>
<text transform="translate(237,329.8) rotate(-90)" text-anchor="middle" style="font-size:14.5px" fill="#1a1a1a" font-family='"Liberation Sans",sans-serif'>S(θ)</text>
<line x1="284.2" y1="230.2" x2="302.9" y2="230.2" stroke="#E8202A" stroke-width="1.4" />
<circle cx="293.8" cy="230.2" r="2.9" fill="#E8202A"/>
<line x1="284.2" y1="241.3" x2="302.9" y2="241.3" stroke="#4558B0" stroke-width="1.4" />
<circle cx="293.8" cy="241.3" r="2.9" fill="#4558B0"/>
<text transform="translate(308.8,233.4) scale(1,1.05)" text-anchor="start" style='font-size:13.4px;font-family:"Liberation Sans",sans-serif;' fill="#1a1a1a" stroke="#1a1a1a" stroke-width="0.12" >1 mM NaCl</text>
<text transform="translate(308.8,244.4) scale(1,1.05)" text-anchor="start" style='font-size:13.4px;font-family:"Liberation Sans",sans-serif;' fill="#1a1a1a" stroke="#1a1a1a" stroke-width="0.12" >1 mM NaOH</text>
<text transform="translate(402.8,227.9) scale(1,1.05)" text-anchor="start" style='font-size:13px;font-family:"Liberation Sans",sans-serif;' fill="#1a1a1a" stroke="#1a1a1a" stroke-width="0.12" >PPP</text>
<text transform="translate(396,494.6) scale(1,1.05)" text-anchor="start" style='font-size:13.9px;font-family:"Liberation Sans",sans-serif;' fill="#1a1a1a" stroke="#1a1a1a" stroke-width="0.12" >PSS</text>
<text transform="translate(447.5,205.6) scale(1,1.1)" text-anchor="start" style='font-size:14.5px;font-family:"Liberation Sans",sans-serif;font-weight:bold;' fill="#000" >F</text>
<clipPath id="cF1"><rect x="496.6" y="205.5" width="179.0" height="267.8"/></clipPath>
<clipPath id="cF2"><rect x="496.6" y="473.3" width="179.0" height="92.90000000000003"/></clipPath>
<g clip-path="url(#cF1)">
<line x1="496.6" y1="468.3" x2="510" y2="468.3" stroke="#AAA" stroke-width="1.6" />
<line x1="667.5" y1="468.1" x2="675.6" y2="468.1" stroke="#AAA" stroke-width="1.6" />
<circle cx="500.3" cy="468.6" r="2.85" fill="#F77A7E" fill-opacity="0.9"/>
<circle cx="505" cy="466" r="2.85" fill="#F77A7E" fill-opacity="0.9"/>
<circle cx="509.6" cy="465" r="2.85" fill="#F77A7E" fill-opacity="0.9"/>
<circle cx="513.9" cy="458.5" r="2.85" fill="#F77A7E" fill-opacity="0.9"/>
<circle cx="519.1" cy="461.5" r="2.85" fill="#F77A7E" fill-opacity="0.9"/>
<circle cx="524" cy="459" r="2.85" fill="#F77A7E" fill-opacity="0.9"/>
<circle cx="528.6" cy="453" r="2.85" fill="#F77A7E" fill-opacity="0.9"/>
<circle cx="533.9" cy="454.5" r="2.85" fill="#F77A7E" fill-opacity="0.9"/>
<circle cx="538" cy="450.5" r="2.85" fill="#F77A7E" fill-opacity="0.9"/>
<circle cx="542.5" cy="445.5" r="2.85" fill="#F77A7E" fill-opacity="0.9"/>
<circle cx="546.9" cy="438.1" r="2.85" fill="#F77A7E" fill-opacity="0.9"/>
<circle cx="552.1" cy="430.8" r="2.85" fill="#F77A7E" fill-opacity="0.9"/>
<circle cx="556.4" cy="429.9" r="2.85" fill="#F77A7E" fill-opacity="0.9"/>
<circle cx="561.6" cy="423.8" r="2.85" fill="#F77A7E" fill-opacity="0.9"/>
<circle cx="566" cy="415.5" r="2.85" fill="#F77A7E" fill-opacity="0.9"/>
<circle cx="570.8" cy="418.3" r="2.85" fill="#F77A7E" fill-opacity="0.9"/>
<circle cx="575.5" cy="436" r="2.85" fill="#F77A7E" fill-opacity="0.9"/>
<circle cx="580.2" cy="453" r="2.85" fill="#F77A7E" fill-opacity="0.9"/>
<circle cx="589.5" cy="449" r="2.85" fill="#F77A7E" fill-opacity="0.9"/>
<circle cx="593.9" cy="426.4" r="2.85" fill="#F77A7E" fill-opacity="0.9"/>
<circle cx="599.1" cy="421.2" r="2.85" fill="#F77A7E" fill-opacity="0.9"/>
<circle cx="604.3" cy="419.5" r="2.85" fill="#F77A7E" fill-opacity="0.9"/>
<circle cx="608.6" cy="424.7" r="2.85" fill="#F77A7E" fill-opacity="0.9"/>
<circle cx="612.6" cy="434.2" r="2.85" fill="#F77A7E" fill-opacity="0.9"/>
<circle cx="617.3" cy="436.8" r="2.85" fill="#F77A7E" fill-opacity="0.9"/>
<circle cx="621.7" cy="446.4" r="2.85" fill="#F77A7E" fill-opacity="0.9"/>
<circle cx="626.9" cy="444.7" r="2.85" fill="#F77A7E" fill-opacity="0.9"/>
<circle cx="631.2" cy="449" r="2.85" fill="#F77A7E" fill-opacity="0.9"/>
<circle cx="635.9" cy="455.9" r="2.85" fill="#F77A7E" fill-opacity="0.9"/>
<circle cx="640.8" cy="458.5" r="2.85" fill="#F77A7E" fill-opacity="0.9"/>
<circle cx="645.6" cy="458.5" r="2.85" fill="#F77A7E" fill-opacity="0.9"/>
<circle cx="650.3" cy="457.7" r="2.85" fill="#F77A7E" fill-opacity="0.9"/>
<circle cx="655" cy="460.3" r="2.85" fill="#F77A7E" fill-opacity="0.9"/>
<circle cx="659.9" cy="464.6" r="2.85" fill="#F77A7E" fill-opacity="0.9"/>
<circle cx="664.5" cy="466.4" r="2.85" fill="#F77A7E" fill-opacity="0.9"/>
<circle cx="668.9" cy="467.6" r="2.85" fill="#F77A7E" fill-opacity="0.9"/>
<circle cx="500.9" cy="465.5" r="2.85" fill="#6F95F7" fill-opacity="0.9"/>
<circle cx="505.2" cy="464.3" r="2.85" fill="#6F95F7" fill-opacity="0.9"/>
<circle cx="509.6" cy="462.8" r="2.85" fill="#6F95F7" fill-opacity="0.9"/>
<circle cx="514.9" cy="459.3" r="2.85" fill="#6F95F7" fill-opacity="0.9"/>
<circle cx="519.6" cy="461" r="2.85" fill="#6F95F7" fill-opacity="0.9"/>
<circle cx="524.2" cy="457.5" r="2.85" fill="#6F95F7" fill-opacity="0.9"/>
<circle cx="528.9" cy="458.7" r="2.85" fill="#6F95F7" fill-opacity="0.9"/>
<circle cx="533.6" cy="449.6" r="2.85" fill="#6F95F7" fill-opacity="0.9"/>
<circle cx="538.2" cy="450.2" r="2.85" fill="#6F95F7" fill-opacity="0.9"/>
<circle cx="542.5" cy="445" r="2.85" fill="#6F95F7" fill-opacity="0.9"/>
<circle cx="547.7" cy="440.3" r="2.85" fill="#6F95F7" fill-opacity="0.9"/>
<circle cx="552.1" cy="436" r="2.85" fill="#6F95F7" fill-opacity="0.9"/>
<circle cx="556.9" cy="426.4" r="2.85" fill="#6F95F7" fill-opacity="0.9"/>
<circle cx="561.6" cy="423" r="2.85" fill="#6F95F7" fill-opacity="0.9"/>
<circle cx="566" cy="419.5" r="2.85" fill="#6F95F7" fill-opacity="0.9"/>
<circle cx="571.2" cy="424.3" r="2.85" fill="#6F95F7" fill-opacity="0.9"/>
<circle cx="575.5" cy="433.4" r="2.85" fill="#6F95F7" fill-opacity="0.9"/>
<circle cx="580.2" cy="457.7" r="2.85" fill="#6F95F7" fill-opacity="0.9"/>
<circle cx="589.4" cy="448.1" r="2.85" fill="#6F95F7" fill-opacity="0.9"/>
<circle cx="594.2" cy="425.6" r="2.85" fill="#6F95F7" fill-opacity="0.9"/>
<circle cx="599.1" cy="418.3" r="2.85" fill="#6F95F7" fill-opacity="0.9"/>
<circle cx="604" cy="416.9" r="2.85" fill="#6F95F7" fill-opacity="0.9"/>
<circle cx="608.3" cy="425.9" r="2.85" fill="#6F95F7" fill-opacity="0.9"/>
<circle cx="613" cy="430.8" r="2.85" fill="#6F95F7" fill-opacity="0.9"/>
<circle cx="617.7" cy="436" r="2.85" fill="#6F95F7" fill-opacity="0.9"/>
<circle cx="621.7" cy="442.9" r="2.85" fill="#6F95F7" fill-opacity="0.9"/>
<circle cx="626.9" cy="446.4" r="2.85" fill="#6F95F7" fill-opacity="0.9"/>
<circle cx="631.6" cy="450.7" r="2.85" fill="#6F95F7" fill-opacity="0.9"/>
<circle cx="636.4" cy="451.3" r="2.85" fill="#6F95F7" fill-opacity="0.9"/>
<circle cx="640.8" cy="458.9" r="2.85" fill="#6F95F7" fill-opacity="0.9"/>
<circle cx="645.6" cy="456.3" r="2.85" fill="#6F95F7" fill-opacity="0.9"/>
<circle cx="650.3" cy="460.3" r="2.85" fill="#6F95F7" fill-opacity="0.9"/>
<circle cx="655" cy="462.9" r="2.85" fill="#6F95F7" fill-opacity="0.9"/>
<circle cx="659.9" cy="463.4" r="2.85" fill="#6F95F7" fill-opacity="0.9"/>
<circle cx="664.5" cy="464.6" r="2.85" fill="#6F95F7" fill-opacity="0.9"/>
<circle cx="668.9" cy="465.8" r="2.85" fill="#6F95F7" fill-opacity="0.9"/>
<path d="M496.72,466.66 L497.3,466.68 L497.89,466.71 L498.48,466.73 L499.07,466.75 L499.66,466.78 L500.25,466.8 L500.84,466.83 L501.42,466.85 L502.01,466.88 L502.6,466.91 L503.19,466.93 L503.78,466.96 L504.37,466.99 L504.96,467.02 L505.54,467.05 L506.13,467.08 L506.72,467.11 L507.31,467.15 L507.9,467.18 L508.49,467.21 L509.07,467.24 L509.66,467.28 L510.25,467.31 L510.84,467.35 L511.43,467.38 L512.02,467.42 L512.61,467.45 L513.19,467.49 L513.78,467.52 L514.37,467.56 L514.96,467.6 L515.55,467.64 L516.14,467.69 L516.73,467.74 L517.31,467.8 L517.9,467.86 L518.49,467.92 L519.08,467.98 L519.67,468.04 L520.26,468.09 L520.85,468.14 L521.43,468.19 L522.02,468.24 L522.61,468.27 L523.2,468.3 L523.79,468.33 L524.38,468.34 L524.97,468.34 L525.55,468.25 L526.14,468.06 L526.73,467.79 L527.32,467.46 L527.91,467.09 L528.5,466.69 L529.08,466.22 L529.67,465.61 L530.26,464.86 L530.85,463.99 L531.44,463.03 L532.03,461.98 L532.62,460.81 L533.2,459.38 L533.79,457.71 L534.38,455.85 L534.97,453.86 L535.56,451.81 L536.15,449.66 L536.74,447.35 L537.32,444.87 L537.91,442.19 L538.5,439.32 L539.09,436.2 L539.68,432.61 L540.27,428.65 L540.86,424.48 L541.44,420.26 L542.03,416.17 L542.62,412.23 L543.21,408.32 L543.8,404.41 L544.39,400.47 L544.97,396.49 L545.56,392.45 L546.15,388.37 L546.74,384.26 L547.33,380.09 L547.92,375.87 L548.51,371.57 L549.09,367.17 L549.68,362.62 L550.27,357.95 L550.86,353.22 L551.45,348.49 L552.04,343.79 L552.63,339.18 L553.21,334.71 L553.8,330.42 L554.39,326.07 L554.98,321.52 L555.57,317.03 L556.16,312.87 L556.75,309.29 L557.33,306.56 L557.92,304.71 L558.51,303.03 L559.1,301.6 L559.69,300.58 L560.28,300.13 L560.86,300.32 L561.45,300.98 L562.04,301.95 L562.63,303.08 L563.22,304.5 L563.81,306.54 L564.4,309.07 L564.98,311.98 L565.57,315.15 L566.16,318.5 L566.75,322.44 L567.34,327 L567.93,332.01 L568.52,337.31 L569.1,342.75 L569.69,348.16 L570.28,353.58 L570.87,359.21 L571.46,365.04 L572.05,371.06 L572.64,377.26 L573.22,383.82 L573.81,390.87 L574.4,398.11 L574.99,405.22 L575.58,411.91 L576.17,417.99 L576.75,423.8 L577.34,429.35 L577.93,434.57 L578.52,439.43 L579.11,444.08 L579.7,448.75 L580.29,453.19 L580.87,457.16 L581.46,460.39 L582.05,462.68 L582.64,464.63 L583.23,466.38 L583.82,467.73 L584.41,468.5 L584.99,468.5 L585.58,467.73 L586.17,466.38 L586.76,464.63 L587.35,462.68 L587.94,460.39 L588.53,457.16 L589.11,453.19 L589.7,448.75 L590.29,444.08 L590.88,439.43 L591.47,434.57 L592.06,429.35 L592.65,423.8 L593.23,417.99 L593.82,411.91 L594.41,405.22 L595,398.11 L595.59,390.87 L596.18,383.82 L596.76,377.26 L597.35,371.06 L597.94,365.04 L598.53,359.21 L599.12,353.58 L599.71,348.16 L600.3,342.75 L600.88,337.31 L601.47,332.01 L602.06,327 L602.65,322.44 L603.24,318.5 L603.83,315.15 L604.42,311.98 L605,309.07 L605.59,306.54 L606.18,304.5 L606.77,303.08 L607.36,301.95 L607.95,300.98 L608.54,300.32 L609.12,300.13 L609.71,300.58 L610.3,301.6 L610.89,303.03 L611.48,304.71 L612.07,306.56 L612.65,309.29 L613.24,312.87 L613.83,317.03 L614.42,321.52 L615.01,326.07 L615.6,330.42 L616.19,334.71 L616.77,339.18 L617.36,343.79 L617.95,348.49 L618.54,353.22 L619.13,357.95 L619.72,362.62 L620.31,367.17 L620.89,371.57 L621.48,375.87 L622.07,380.09 L622.66,384.26 L623.25,388.37 L623.84,392.45 L624.43,396.49 L625.01,400.47 L625.6,404.41 L626.19,408.32 L626.78,412.23 L627.37,416.17 L627.96,420.26 L628.54,424.48 L629.13,428.65 L629.72,432.61 L630.31,436.2 L630.9,439.32 L631.49,442.19 L632.08,444.87 L632.66,447.35 L633.25,449.66 L633.84,451.81 L634.43,453.86 L635.02,455.85 L635.61,457.71 L636.2,459.38 L636.78,460.81 L637.37,461.98 L637.96,463.03 L638.55,463.99 L639.14,464.86 L639.73,465.61 L640.32,466.22 L640.9,466.69 L641.49,467.09 L642.08,467.46 L642.67,467.79 L643.26,468.06 L643.85,468.25 L644.43,468.34 L645.02,468.34 L645.61,468.33 L646.2,468.3 L646.79,468.27 L647.38,468.24 L647.97,468.19 L648.55,468.14 L649.14,468.09 L649.73,468.04 L650.32,467.98 L650.91,467.92 L651.5,467.86 L652.09,467.8 L652.67,467.74 L653.26,467.69 L653.85,467.64 L654.44,467.6 L655.03,467.56 L655.62,467.52 L656.21,467.49 L656.79,467.45 L657.38,467.42 L657.97,467.38 L658.56,467.35 L659.15,467.31 L659.74,467.28 L660.33,467.24 L660.91,467.21 L661.5,467.18 L662.09,467.15 L662.68,467.11 L663.27,467.08 L663.86,467.05 L664.44,467.02 L665.03,466.99 L665.62,466.96 L666.21,466.93 L666.8,466.91 L667.39,466.88 L667.98,466.85 L668.56,466.83 L669.15,466.8 L669.74,466.78 L670.33,466.75 L670.92,466.73 L671.51,466.71 L672.1,466.68 L672.68,466.66" fill="none" stroke="#222" stroke-width="0.95" stroke-dasharray="1.3,0.9"/>
<path d="M496.72,467.31 L497.3,467.22 L497.89,467.14 L498.48,467.06 L499.07,466.99 L499.66,466.93 L500.25,466.87 L500.84,466.82 L501.42,466.77 L502.01,466.73 L502.6,466.7 L503.19,466.67 L503.78,466.64 L504.37,466.61 L504.96,466.59 L505.54,466.58 L506.13,466.56 L506.72,466.55 L507.31,466.55 L507.9,466.54 L508.49,466.54 L509.07,466.53 L509.66,466.53 L510.25,466.54 L510.84,466.56 L511.43,466.6 L512.02,466.65 L512.61,466.71 L513.19,466.78 L513.78,466.86 L514.37,466.94 L514.96,467.03 L515.55,467.11 L516.14,467.2 L516.73,467.29 L517.31,467.37 L517.9,467.44 L518.49,467.5 L519.08,467.56 L519.67,467.61 L520.26,467.65 L520.85,467.7 L521.43,467.75 L522.02,467.8 L522.61,467.85 L523.2,467.89 L523.79,467.94 L524.38,467.97 L524.97,468.01 L525.55,468.04 L526.14,468.06 L526.73,468.07 L527.32,468.08 L527.91,468.07 L528.5,467.95 L529.08,467.72 L529.67,467.41 L530.26,467.02 L530.85,466.57 L531.44,466.08 L532.03,465.56 L532.62,465.02 L533.2,464.48 L533.79,463.88 L534.38,463.16 L534.97,462.35 L535.56,461.45 L536.15,460.51 L536.74,459.53 L537.32,458.55 L537.91,457.53 L538.5,456.47 L539.09,455.34 L539.68,454.18 L540.27,452.98 L540.86,451.74 L541.44,450.49 L542.03,449.22 L542.62,447.94 L543.21,446.66 L543.8,445.38 L544.39,444.09 L544.97,442.79 L545.56,441.45 L546.15,440.06 L546.74,438.61 L547.33,437.06 L547.92,435.4 L548.51,433.66 L549.09,431.9 L549.68,430.17 L550.27,428.5 L550.86,426.84 L551.45,425.12 L552.04,423.38 L552.63,421.68 L553.21,420.04 L553.8,418.52 L554.39,417.17 L554.98,416.02 L555.57,415.07 L556.16,414.13 L556.75,413.21 L557.33,412.36 L557.92,411.61 L558.51,410.99 L559.1,410.56 L559.69,410.35 L560.28,410.36 L560.86,410.48 L561.45,410.71 L562.04,411.02 L562.63,411.41 L563.22,411.85 L563.81,412.35 L564.4,412.88 L564.98,413.51 L565.57,414.43 L566.16,415.61 L566.75,416.99 L567.34,418.52 L567.93,420.16 L568.52,421.84 L569.1,423.67 L569.69,425.81 L570.28,428.19 L570.87,430.72 L571.46,433.3 L572.05,435.87 L572.64,438.33 L573.22,440.64 L573.81,442.94 L574.4,445.21 L574.99,447.38 L575.58,449.39 L576.17,451.23 L576.75,452.97 L577.34,454.63 L577.93,456.25 L578.52,457.89 L579.11,459.58 L579.7,461.23 L580.29,462.72 L580.87,463.94 L581.46,464.94 L582.05,465.93 L582.64,466.85 L583.23,467.64 L583.82,468.23 L584.41,468.56 L584.99,468.56 L585.58,468.23 L586.17,467.64 L586.76,466.85 L587.35,465.93 L587.94,464.94 L588.53,463.94 L589.11,462.72 L589.7,461.23 L590.29,459.58 L590.88,457.89 L591.47,456.25 L592.06,454.63 L592.65,452.97 L593.23,451.23 L593.82,449.39 L594.41,447.38 L595,445.21 L595.59,442.94 L596.18,440.64 L596.76,438.33 L597.35,435.87 L597.94,433.3 L598.53,430.72 L599.12,428.19 L599.71,425.81 L600.3,423.67 L600.88,421.84 L601.47,420.16 L602.06,418.52 L602.65,416.99 L603.24,415.61 L603.83,414.43 L604.42,413.51 L605,412.88 L605.59,412.35 L606.18,411.85 L606.77,411.41 L607.36,411.02 L607.95,410.71 L608.54,410.48 L609.12,410.36 L609.71,410.35 L610.3,410.56 L610.89,410.99 L611.48,411.61 L612.07,412.36 L612.65,413.21 L613.24,414.13 L613.83,415.07 L614.42,416.02 L615.01,417.17 L615.6,418.52 L616.19,420.04 L616.77,421.68 L617.36,423.38 L617.95,425.12 L618.54,426.84 L619.13,428.5 L619.72,430.17 L620.31,431.9 L620.89,433.66 L621.48,435.4 L622.07,437.06 L622.66,438.61 L623.25,440.06 L623.84,441.45 L624.43,442.79 L625.01,444.09 L625.6,445.38 L626.19,446.66 L626.78,447.94 L627.37,449.22 L627.96,450.49 L628.54,451.74 L629.13,452.98 L629.72,454.18 L630.31,455.34 L630.9,456.47 L631.49,457.53 L632.08,458.55 L632.66,459.53 L633.25,460.51 L633.84,461.45 L634.43,462.35 L635.02,463.16 L635.61,463.88 L636.2,464.48 L636.78,465.02 L637.37,465.56 L637.96,466.08 L638.55,466.57 L639.14,467.02 L639.73,467.41 L640.32,467.72 L640.9,467.95 L641.49,468.07 L642.08,468.08 L642.67,468.07 L643.26,468.06 L643.85,468.04 L644.43,468.01 L645.02,467.97 L645.61,467.94 L646.2,467.89 L646.79,467.85 L647.38,467.8 L647.97,467.75 L648.55,467.7 L649.14,467.65 L649.73,467.61 L650.32,467.56 L650.91,467.5 L651.5,467.44 L652.09,467.37 L652.67,467.29 L653.26,467.2 L653.85,467.11 L654.44,467.03 L655.03,466.94 L655.62,466.86 L656.21,466.78 L656.79,466.71 L657.38,466.65 L657.97,466.6 L658.56,466.56 L659.15,466.54 L659.74,466.53 L660.33,466.53 L660.91,466.54 L661.5,466.54 L662.09,466.55 L662.68,466.55 L663.27,466.56 L663.86,466.58 L664.44,466.59 L665.03,466.61 L665.62,466.64 L666.21,466.67 L666.8,466.7 L667.39,466.73 L667.98,466.77 L668.56,466.82 L669.15,466.87 L669.74,466.93 L670.33,466.99 L670.92,467.06 L671.51,467.14 L672.1,467.22 L672.68,467.31" fill="none" stroke="#2a2a2a" stroke-width="1.0"/>
</g>
<g clip-path="url(#cF2)">
<line x1="496.6" y1="561.8" x2="510" y2="561.8" stroke="#AAA" stroke-width="1.6" />
<line x1="668" y1="562.3" x2="675.6" y2="562.3" stroke="#AAA" stroke-width="1.6" />
<circle cx="499.9" cy="559.3" r="2.8" fill="#F77A7E" fill-opacity="0.9"/>
<circle cx="504.9" cy="557.9" r="2.8" fill="#F77A7E" fill-opacity="0.9"/>
<circle cx="514.5" cy="556.3" r="2.8" fill="#F77A7E" fill-opacity="0.9"/>
<circle cx="519.4" cy="557.9" r="2.8" fill="#F77A7E" fill-opacity="0.9"/>
<circle cx="523.9" cy="557.9" r="2.8" fill="#F77A7E" fill-opacity="0.9"/>
<circle cx="528.5" cy="555.1" r="2.8" fill="#F77A7E" fill-opacity="0.9"/>
<circle cx="533.5" cy="559.8" r="2.8" fill="#F77A7E" fill-opacity="0.9"/>
<circle cx="537.9" cy="550.5" r="2.8" fill="#F77A7E" fill-opacity="0.9"/>
<circle cx="542.9" cy="555.6" r="2.8" fill="#F77A7E" fill-opacity="0.9"/>
<circle cx="547.5" cy="553.8" r="2.8" fill="#F77A7E" fill-opacity="0.9"/>
<circle cx="552.1" cy="545.7" r="2.8" fill="#F77A7E" fill-opacity="0.9"/>
<circle cx="556.9" cy="551.5" r="2.8" fill="#F77A7E" fill-opacity="0.9"/>
<circle cx="561.9" cy="552.6" r="2.8" fill="#F77A7E" fill-opacity="0.9"/>
<circle cx="566.5" cy="542.4" r="2.8" fill="#F77A7E" fill-opacity="0.9"/>
<circle cx="571.5" cy="546.4" r="2.8" fill="#F77A7E" fill-opacity="0.9"/>
<circle cx="576.3" cy="549.3" r="2.8" fill="#F77A7E" fill-opacity="0.9"/>
<circle cx="580.9" cy="558.9" r="2.8" fill="#F77A7E" fill-opacity="0.9"/>
<circle cx="590.2" cy="551" r="2.8" fill="#F77A7E" fill-opacity="0.9"/>
<circle cx="595.2" cy="549.8" r="2.8" fill="#F77A7E" fill-opacity="0.9"/>
<circle cx="604.8" cy="546.4" r="2.8" fill="#F77A7E" fill-opacity="0.9"/>
<circle cx="609.8" cy="543.9" r="2.8" fill="#F77A7E" fill-opacity="0.9"/>
<circle cx="614.4" cy="541.6" r="2.8" fill="#F77A7E" fill-opacity="0.9"/>
<circle cx="619.2" cy="544" r="2.8" fill="#F77A7E" fill-opacity="0.9"/>
<circle cx="623.8" cy="544.4" r="2.8" fill="#F77A7E" fill-opacity="0.9"/>
<circle cx="628.8" cy="547.2" r="2.8" fill="#F77A7E" fill-opacity="0.9"/>
<circle cx="633.4" cy="554.3" r="2.8" fill="#F77A7E" fill-opacity="0.9"/>
<circle cx="638.2" cy="555.5" r="2.8" fill="#F77A7E" fill-opacity="0.9"/>
<circle cx="642.8" cy="554.3" r="2.8" fill="#F77A7E" fill-opacity="0.9"/>
<circle cx="647.8" cy="560.4" r="2.8" fill="#F77A7E" fill-opacity="0.9"/>
<circle cx="652.7" cy="555.1" r="2.8" fill="#F77A7E" fill-opacity="0.9"/>
<circle cx="657.4" cy="555.6" r="2.8" fill="#F77A7E" fill-opacity="0.9"/>
<circle cx="662.1" cy="559.3" r="2.8" fill="#F77A7E" fill-opacity="0.9"/>
<circle cx="666.8" cy="556" r="2.8" fill="#F77A7E" fill-opacity="0.9"/>
<circle cx="671.7" cy="555.1" r="2.8" fill="#F77A7E" fill-opacity="0.9"/>
<circle cx="499.9" cy="553.1" r="2.8" fill="#6F95F7" fill-opacity="0.9"/>
<circle cx="504.9" cy="562.6" r="2.8" fill="#6F95F7" fill-opacity="0.9"/>
<circle cx="509.5" cy="549" r="2.8" fill="#6F95F7" fill-opacity="0.9"/>
<circle cx="514.5" cy="560.1" r="2.8" fill="#6F95F7" fill-opacity="0.9"/>
<circle cx="518.9" cy="554.8" r="2.8" fill="#6F95F7" fill-opacity="0.9"/>
<circle cx="523.9" cy="553.8" r="2.8" fill="#6F95F7" fill-opacity="0.9"/>
<circle cx="528.5" cy="551" r="2.8" fill="#6F95F7" fill-opacity="0.9"/>
<circle cx="533.5" cy="556.4" r="2.8" fill="#6F95F7" fill-opacity="0.9"/>
<circle cx="538.3" cy="548" r="2.8" fill="#6F95F7" fill-opacity="0.9"/>
<circle cx="542.9" cy="546.9" r="2.8" fill="#6F95F7" fill-opacity="0.9"/>
<circle cx="547.9" cy="549" r="2.8" fill="#6F95F7" fill-opacity="0.9"/>
<circle cx="552.5" cy="548" r="2.8" fill="#6F95F7" fill-opacity="0.9"/>
<circle cx="557.3" cy="550.5" r="2.8" fill="#6F95F7" fill-opacity="0.9"/>
<circle cx="561.9" cy="545.5" r="2.8" fill="#6F95F7" fill-opacity="0.9"/>
<circle cx="566.5" cy="545.5" r="2.8" fill="#6F95F7" fill-opacity="0.9"/>
<circle cx="571.3" cy="549.8" r="2.8" fill="#6F95F7" fill-opacity="0.9"/>
<circle cx="576.3" cy="554.3" r="2.8" fill="#6F95F7" fill-opacity="0.9"/>
<circle cx="590.2" cy="556" r="2.8" fill="#6F95F7" fill-opacity="0.9"/>
<circle cx="595.2" cy="542.7" r="2.8" fill="#6F95F7" fill-opacity="0.9"/>
<circle cx="599.8" cy="540.7" r="2.8" fill="#6F95F7" fill-opacity="0.9"/>
<circle cx="604.8" cy="540.7" r="2.8" fill="#6F95F7" fill-opacity="0.9"/>
<circle cx="609.8" cy="548.8" r="2.8" fill="#6F95F7" fill-opacity="0.9"/>
<circle cx="614.4" cy="548" r="2.8" fill="#6F95F7" fill-opacity="0.9"/>
<circle cx="619.2" cy="541.1" r="2.8" fill="#6F95F7" fill-opacity="0.9"/>
<circle cx="623.8" cy="546" r="2.8" fill="#6F95F7" fill-opacity="0.9"/>
<circle cx="628.8" cy="543.1" r="2.8" fill="#6F95F7" fill-opacity="0.9"/>
<circle cx="633.4" cy="553.1" r="2.8" fill="#6F95F7" fill-opacity="0.9"/>
<circle cx="638.2" cy="555.1" r="2.8" fill="#6F95F7" fill-opacity="0.9"/>
<circle cx="642.8" cy="559.8" r="2.8" fill="#6F95F7" fill-opacity="0.9"/>
<circle cx="647.8" cy="554.6" r="2.8" fill="#6F95F7" fill-opacity="0.9"/>
<circle cx="652.7" cy="558.8" r="2.8" fill="#6F95F7" fill-opacity="0.9"/>
<circle cx="657.4" cy="560.6" r="2.8" fill="#6F95F7" fill-opacity="0.9"/>
<circle cx="662.1" cy="556.8" r="2.8" fill="#6F95F7" fill-opacity="0.9"/>
<circle cx="666.8" cy="556.8" r="2.8" fill="#6F95F7" fill-opacity="0.9"/>
<circle cx="671.7" cy="556.8" r="2.8" fill="#6F95F7" fill-opacity="0.9"/>
<path d="M495.26,557.55 L495.86,557.56 L496.47,557.59 L497.07,557.61 L497.67,557.65 L498.28,557.69 L498.88,557.73 L499.49,557.78 L500.09,557.83 L500.69,557.88 L501.3,557.94 L501.9,558.01 L502.5,558.07 L503.11,558.14 L503.71,558.21 L504.31,558.29 L504.92,558.37 L505.52,558.45 L506.13,558.53 L506.73,558.61 L507.33,558.69 L507.94,558.78 L508.54,558.86 L509.14,558.95 L509.75,559.05 L510.35,559.17 L510.95,559.29 L511.56,559.42 L512.16,559.56 L512.76,559.71 L513.37,559.86 L513.97,560.01 L514.58,560.17 L515.18,560.33 L515.78,560.49 L516.39,560.64 L516.99,560.8 L517.59,560.95 L518.2,561.09 L518.8,561.24 L519.4,561.4 L520.01,561.58 L520.61,561.77 L521.22,561.95 L521.82,562.14 L522.42,562.31 L523.03,562.47 L523.63,562.62 L524.23,562.74 L524.84,562.83 L525.44,562.88 L526.04,562.9 L526.65,562.83 L527.25,562.66 L527.86,562.39 L528.46,562.04 L529.06,561.63 L529.67,561.17 L530.27,560.66 L530.87,560.12 L531.48,559.57 L532.08,558.99 L532.68,558.25 L533.29,557.36 L533.89,556.35 L534.49,555.26 L535.1,554.11 L535.7,552.93 L536.31,551.75 L536.91,550.59 L537.51,549.4 L538.12,548.14 L538.72,546.78 L539.32,545.31 L539.93,543.66 L540.53,541.81 L541.13,539.81 L541.74,537.71 L542.34,535.57 L542.95,533.44 L543.55,531.34 L544.15,529.21 L544.76,527.04 L545.36,524.84 L545.96,522.61 L546.57,520.34 L547.17,518.03 L547.77,515.63 L548.38,513.14 L548.98,510.61 L549.59,508.09 L550.19,505.62 L550.79,503.25 L551.4,500.91 L552,498.42 L552.6,495.92 L553.21,493.57 L553.81,491.54 L554.41,489.97 L555.02,488.97 L555.62,488.14 L556.22,487.39 L556.83,486.79 L557.43,486.37 L558.04,486.19 L558.64,486.24 L559.24,486.44 L559.85,486.75 L560.45,487.15 L561.05,487.61 L561.66,488.11 L562.26,488.8 L562.86,489.72 L563.47,490.83 L564.07,492.1 L564.68,493.49 L565.28,494.96 L565.88,496.59 L566.49,498.52 L567.09,500.71 L567.69,503.1 L568.3,505.64 L568.9,508.29 L569.5,510.99 L570.11,513.7 L570.71,516.53 L571.32,519.63 L571.92,522.88 L572.52,526.21 L573.13,529.49 L573.73,532.65 L574.33,535.57 L574.94,538.25 L575.54,540.85 L576.14,543.35 L576.75,545.72 L577.35,547.93 L577.95,549.96 L578.56,551.93 L579.16,553.82 L579.77,555.53 L580.37,556.94 L580.97,558 L581.58,558.99 L582.18,559.93 L582.78,560.8 L583.39,561.56 L583.99,562.18 L584.59,562.63 L585.2,562.87 L585.8,562.87 L586.41,562.63 L587.01,562.18 L587.61,561.56 L588.22,560.8 L588.82,559.93 L589.42,558.99 L590.03,558 L590.63,556.94 L591.23,555.53 L591.84,553.82 L592.44,551.93 L593.05,549.96 L593.65,547.93 L594.25,545.72 L594.86,543.35 L595.46,540.85 L596.06,538.25 L596.67,535.57 L597.27,532.65 L597.87,529.49 L598.48,526.21 L599.08,522.88 L599.68,519.63 L600.29,516.53 L600.89,513.7 L601.5,510.99 L602.1,508.29 L602.7,505.64 L603.31,503.1 L603.91,500.71 L604.51,498.52 L605.12,496.59 L605.72,494.96 L606.32,493.49 L606.93,492.1 L607.53,490.83 L608.14,489.72 L608.74,488.8 L609.34,488.11 L609.95,487.61 L610.55,487.15 L611.15,486.75 L611.76,486.44 L612.36,486.24 L612.96,486.19 L613.57,486.37 L614.17,486.79 L614.78,487.39 L615.38,488.14 L615.98,488.97 L616.59,489.97 L617.19,491.54 L617.79,493.57 L618.4,495.92 L619,498.42 L619.6,500.91 L620.21,503.25 L620.81,505.62 L621.41,508.09 L622.02,510.61 L622.62,513.14 L623.23,515.63 L623.83,518.03 L624.43,520.34 L625.04,522.61 L625.64,524.84 L626.24,527.04 L626.85,529.21 L627.45,531.34 L628.05,533.44 L628.66,535.57 L629.26,537.71 L629.87,539.81 L630.47,541.81 L631.07,543.66 L631.68,545.31 L632.28,546.78 L632.88,548.14 L633.49,549.4 L634.09,550.59 L634.69,551.75 L635.3,552.93 L635.9,554.11 L636.51,555.26 L637.11,556.35 L637.71,557.36 L638.32,558.25 L638.92,558.99 L639.52,559.57 L640.13,560.12 L640.73,560.66 L641.33,561.17 L641.94,561.63 L642.54,562.04 L643.14,562.39 L643.75,562.66 L644.35,562.83 L644.96,562.9 L645.56,562.88 L646.16,562.83 L646.77,562.74 L647.37,562.62 L647.97,562.47 L648.58,562.31 L649.18,562.14 L649.78,561.95 L650.39,561.77 L650.99,561.58 L651.6,561.4 L652.2,561.24 L652.8,561.09 L653.41,560.95 L654.01,560.8 L654.61,560.64 L655.22,560.49 L655.82,560.33 L656.42,560.17 L657.03,560.01 L657.63,559.86 L658.24,559.71 L658.84,559.56 L659.44,559.42 L660.05,559.29 L660.65,559.17 L661.25,559.05 L661.86,558.95 L662.46,558.86 L663.06,558.78 L663.67,558.69 L664.27,558.61 L664.87,558.53 L665.48,558.45 L666.08,558.37 L666.69,558.29 L667.29,558.21 L667.89,558.14 L668.5,558.07 L669.1,558.01 L669.7,557.94 L670.31,557.88 L670.91,557.83 L671.51,557.78 L672.12,557.73 L672.72,557.69 L673.33,557.65 L673.93,557.61 L674.53,557.59 L675.14,557.56 L675.74,557.55" fill="none" stroke="#222" stroke-width="0.95" stroke-dasharray="1.3,0.9"/>
<path d="M495.26,560.67 L495.86,560.69 L496.47,560.71 L497.07,560.74 L497.67,560.76 L498.28,560.79 L498.88,560.82 L499.49,560.85 L500.09,560.88 L500.69,560.92 L501.3,560.95 L501.9,560.99 L502.5,561.03 L503.11,561.06 L503.71,561.1 L504.31,561.14 L504.92,561.19 L505.52,561.24 L506.13,561.29 L506.73,561.34 L507.33,561.4 L507.94,561.46 L508.54,561.52 L509.14,561.58 L509.75,561.64 L510.35,561.7 L510.95,561.76 L511.56,561.82 L512.16,561.88 L512.76,561.94 L513.37,562 L513.97,562.05 L514.58,562.11 L515.18,562.17 L515.78,562.24 L516.39,562.31 L516.99,562.37 L517.59,562.44 L518.2,562.51 L518.8,562.57 L519.4,562.63 L520.01,562.69 L520.61,562.74 L521.22,562.79 L521.82,562.83 L522.42,562.86 L523.03,562.88 L523.63,562.9 L524.23,562.9 L524.84,562.89 L525.44,562.86 L526.04,562.83 L526.65,562.78 L527.25,562.72 L527.86,562.65 L528.46,562.57 L529.06,562.48 L529.67,562.39 L530.27,562.28 L530.87,562.17 L531.48,562.06 L532.08,561.93 L532.68,561.75 L533.29,561.51 L533.89,561.22 L534.49,560.9 L535.1,560.54 L535.7,560.15 L536.31,559.74 L536.91,559.31 L537.51,558.88 L538.12,558.41 L538.72,557.88 L539.32,557.3 L539.93,556.67 L540.53,556 L541.13,555.3 L541.74,554.57 L542.34,553.82 L542.95,553.05 L543.55,552.26 L544.15,551.39 L544.76,550.45 L545.36,549.46 L545.96,548.45 L546.57,547.44 L547.17,546.45 L547.77,545.49 L548.38,544.58 L548.98,543.63 L549.59,542.66 L550.19,541.7 L550.79,540.78 L551.4,539.93 L552,539.18 L552.6,538.58 L553.21,538.11 L553.81,537.66 L554.41,537.23 L555.02,536.83 L555.62,536.47 L556.22,536.16 L556.83,535.92 L557.43,535.76 L558.04,535.7 L558.64,535.72 L559.24,535.81 L559.85,535.96 L560.45,536.16 L561.05,536.4 L561.66,536.68 L562.26,536.99 L562.86,537.32 L563.47,537.67 L564.07,538.03 L564.68,538.49 L565.28,539.06 L565.88,539.73 L566.49,540.47 L567.09,541.26 L567.69,542.09 L568.3,542.94 L568.9,543.78 L569.5,544.62 L570.11,545.53 L570.71,546.49 L571.32,547.5 L571.92,548.53 L572.52,549.56 L573.13,550.57 L573.73,551.54 L574.33,552.46 L574.94,553.34 L575.54,554.24 L576.14,555.14 L576.75,556.05 L577.35,556.93 L577.95,557.77 L578.56,558.56 L579.16,559.27 L579.77,559.9 L580.37,560.43 L580.97,560.85 L581.58,561.26 L582.18,561.65 L582.78,562.01 L583.39,562.33 L583.99,562.59 L584.59,562.78 L585.2,562.89 L585.8,562.89 L586.41,562.78 L587.01,562.59 L587.61,562.33 L588.22,562.01 L588.82,561.65 L589.42,561.26 L590.03,560.85 L590.63,560.43 L591.23,559.9 L591.84,559.27 L592.44,558.56 L593.05,557.77 L593.65,556.93 L594.25,556.05 L594.86,555.14 L595.46,554.24 L596.06,553.34 L596.67,552.46 L597.27,551.54 L597.87,550.57 L598.48,549.56 L599.08,548.53 L599.68,547.5 L600.29,546.49 L600.89,545.53 L601.5,544.62 L602.1,543.78 L602.7,542.94 L603.31,542.09 L603.91,541.26 L604.51,540.47 L605.12,539.73 L605.72,539.06 L606.32,538.49 L606.93,538.03 L607.53,537.67 L608.14,537.32 L608.74,536.99 L609.34,536.68 L609.95,536.4 L610.55,536.16 L611.15,535.96 L611.76,535.81 L612.36,535.72 L612.96,535.7 L613.57,535.76 L614.17,535.92 L614.78,536.16 L615.38,536.47 L615.98,536.83 L616.59,537.23 L617.19,537.66 L617.79,538.11 L618.4,538.58 L619,539.18 L619.6,539.93 L620.21,540.78 L620.81,541.7 L621.41,542.66 L622.02,543.63 L622.62,544.58 L623.23,545.49 L623.83,546.45 L624.43,547.44 L625.04,548.45 L625.64,549.46 L626.24,550.45 L626.85,551.39 L627.45,552.26 L628.05,553.05 L628.66,553.82 L629.26,554.57 L629.87,555.3 L630.47,556 L631.07,556.67 L631.68,557.3 L632.28,557.88 L632.88,558.41 L633.49,558.88 L634.09,559.31 L634.69,559.74 L635.3,560.15 L635.9,560.54 L636.51,560.9 L637.11,561.22 L637.71,561.51 L638.32,561.75 L638.92,561.93 L639.52,562.06 L640.13,562.17 L640.73,562.28 L641.33,562.39 L641.94,562.48 L642.54,562.57 L643.14,562.65 L643.75,562.72 L644.35,562.78 L644.96,562.83 L645.56,562.86 L646.16,562.89 L646.77,562.9 L647.37,562.9 L647.97,562.88 L648.58,562.86 L649.18,562.83 L649.78,562.79 L650.39,562.74 L650.99,562.69 L651.6,562.63 L652.2,562.57 L652.8,562.51 L653.41,562.44 L654.01,562.37 L654.61,562.31 L655.22,562.24 L655.82,562.17 L656.42,562.11 L657.03,562.05 L657.63,562 L658.24,561.94 L658.84,561.88 L659.44,561.82 L660.05,561.76 L660.65,561.7 L661.25,561.64 L661.86,561.58 L662.46,561.52 L663.06,561.46 L663.67,561.4 L664.27,561.34 L664.87,561.29 L665.48,561.24 L666.08,561.19 L666.69,561.14 L667.29,561.1 L667.89,561.06 L668.5,561.03 L669.1,560.99 L669.7,560.95 L670.31,560.92 L670.91,560.88 L671.51,560.85 L672.12,560.82 L672.72,560.79 L673.33,560.76 L673.93,560.74 L674.53,560.71 L675.14,560.69 L675.74,560.67" fill="none" stroke="#2a2a2a" stroke-width="1.0"/>
</g>
<path d="M496.6,205.5 L675.6,205.5 L675.6,473.3 L496.6,473.3 Z" fill="none" stroke="#2a2a2a" stroke-width="1.15"/>
<path d="M496.6,473.3 L675.6,473.3 L675.6,566.2 L496.6,566.2 Z" fill="none" stroke="#2a2a2a" stroke-width="1.15"/>
<line x1="509.82" y1="205.5" x2="509.82" y2="212.5" stroke="#3a3a3a" stroke-width="1" />
<line x1="547.26" y1="205.5" x2="547.26" y2="212.5" stroke="#3a3a3a" stroke-width="1" />
<line x1="584.7" y1="205.5" x2="584.7" y2="212.5" stroke="#3a3a3a" stroke-width="1" />
<line x1="622.14" y1="205.5" x2="622.14" y2="212.5" stroke="#3a3a3a" stroke-width="1" />
<line x1="659.58" y1="205.5" x2="659.58" y2="212.5" stroke="#3a3a3a" stroke-width="1" />
<line x1="528.54" y1="205.5" x2="528.54" y2="209.1" stroke="#3a3a3a" stroke-width="1" />
<line x1="565.98" y1="205.5" x2="565.98" y2="209.1" stroke="#3a3a3a" stroke-width="1" />
<line x1="603.42" y1="205.5" x2="603.42" y2="209.1" stroke="#3a3a3a" stroke-width="1" />
<line x1="640.86" y1="205.5" x2="640.86" y2="209.1" stroke="#3a3a3a" stroke-width="1" />
<line x1="509.82" y1="473.3" x2="509.82" y2="466.3" stroke="#3a3a3a" stroke-width="1" />
<line x1="547.26" y1="473.3" x2="547.26" y2="466.3" stroke="#3a3a3a" stroke-width="1" />
<line x1="584.7" y1="473.3" x2="584.7" y2="466.3" stroke="#3a3a3a" stroke-width="1" />
<line x1="622.14" y1="473.3" x2="622.14" y2="466.3" stroke="#3a3a3a" stroke-width="1" />
<line x1="659.58" y1="473.3" x2="659.58" y2="466.3" stroke="#3a3a3a" stroke-width="1" />
<line x1="528.54" y1="473.3" x2="528.54" y2="469.7" stroke="#3a3a3a" stroke-width="1" />
<line x1="565.98" y1="473.3" x2="565.98" y2="469.7" stroke="#3a3a3a" stroke-width="1" />
<line x1="603.42" y1="473.3" x2="603.42" y2="469.7" stroke="#3a3a3a" stroke-width="1" />
<line x1="640.86" y1="473.3" x2="640.86" y2="469.7" stroke="#3a3a3a" stroke-width="1" />
<line x1="508.7" y1="566.2" x2="508.7" y2="559.2" stroke="#3a3a3a" stroke-width="1" />
<line x1="547.1" y1="566.2" x2="547.1" y2="559.2" stroke="#3a3a3a" stroke-width="1" />
<line x1="585.5" y1="566.2" x2="585.5" y2="559.2" stroke="#3a3a3a" stroke-width="1" />
<line x1="623.9" y1="566.2" x2="623.9" y2="559.2" stroke="#3a3a3a" stroke-width="1" />
<line x1="662.3" y1="566.2" x2="662.3" y2="559.2" stroke="#3a3a3a" stroke-width="1" />
<line x1="527.9" y1="566.2" x2="527.9" y2="562.6" stroke="#3a3a3a" stroke-width="1" />
<line x1="566.3" y1="566.2" x2="566.3" y2="562.6" stroke="#3a3a3a" stroke-width="1" />
<line x1="604.7" y1="566.2" x2="604.7" y2="562.6" stroke="#3a3a3a" stroke-width="1" />
<line x1="643.1" y1="566.2" x2="643.1" y2="562.6" stroke="#3a3a3a" stroke-width="1" />
<line x1="496.6" y1="468.6" x2="503.6" y2="468.6" stroke="#3a3a3a" stroke-width="1" />
<line x1="668.6" y1="468.6" x2="675.6" y2="468.6" stroke="#3a3a3a" stroke-width="1" />
<line x1="496.6" y1="404" x2="503.6" y2="404" stroke="#3a3a3a" stroke-width="1" />
<line x1="668.6" y1="404" x2="675.6" y2="404" stroke="#3a3a3a" stroke-width="1" />
<line x1="496.6" y1="339.4" x2="503.6" y2="339.4" stroke="#3a3a3a" stroke-width="1" />
<line x1="668.6" y1="339.4" x2="675.6" y2="339.4" stroke="#3a3a3a" stroke-width="1" />
<line x1="496.6" y1="274.8" x2="503.6" y2="274.8" stroke="#3a3a3a" stroke-width="1" />
<line x1="668.6" y1="274.8" x2="675.6" y2="274.8" stroke="#3a3a3a" stroke-width="1" />
<line x1="496.6" y1="210.2" x2="503.6" y2="210.2" stroke="#3a3a3a" stroke-width="1" />
<line x1="668.6" y1="210.2" x2="675.6" y2="210.2" stroke="#3a3a3a" stroke-width="1" />
<line x1="496.6" y1="562.9" x2="503.6" y2="562.9" stroke="#3a3a3a" stroke-width="1" />
<line x1="668.6" y1="562.9" x2="675.6" y2="562.9" stroke="#3a3a3a" stroke-width="1" />
<line x1="496.6" y1="540.6" x2="503.6" y2="540.6" stroke="#3a3a3a" stroke-width="1" />
<line x1="668.6" y1="540.6" x2="675.6" y2="540.6" stroke="#3a3a3a" stroke-width="1" />
<line x1="496.6" y1="518.3" x2="503.6" y2="518.3" stroke="#3a3a3a" stroke-width="1" />
<line x1="668.6" y1="518.3" x2="675.6" y2="518.3" stroke="#3a3a3a" stroke-width="1" />
<line x1="496.6" y1="496" x2="503.6" y2="496" stroke="#3a3a3a" stroke-width="1" />
<line x1="668.6" y1="496" x2="675.6" y2="496" stroke="#3a3a3a" stroke-width="1" />
<text transform="translate(487.8,473.5) scale(1,1.05)" text-anchor="end" style='font-size:13.8px;font-family:"Liberation Sans",sans-serif;' fill="#1a1a1a" stroke="#1a1a1a" stroke-width="0.12" >0.0</text>
<text transform="translate(487.8,408.9) scale(1,1.05)" text-anchor="end" style='font-size:13.8px;font-family:"Liberation Sans",sans-serif;' fill="#1a1a1a" stroke="#1a1a1a" stroke-width="0.12" >0.5</text>
<text transform="translate(487.8,344.3) scale(1,1.05)" text-anchor="end" style='font-size:13.8px;font-family:"Liberation Sans",sans-serif;' fill="#1a1a1a" stroke="#1a1a1a" stroke-width="0.12" >1.0</text>
<text transform="translate(487.8,279.7) scale(1,1.05)" text-anchor="end" style='font-size:13.8px;font-family:"Liberation Sans",sans-serif;' fill="#1a1a1a" stroke="#1a1a1a" stroke-width="0.12" >1.5</text>
<text transform="translate(487.8,215.1) scale(1,1.05)" text-anchor="end" style='font-size:13.8px;font-family:"Liberation Sans",sans-serif;' fill="#1a1a1a" stroke="#1a1a1a" stroke-width="0.12" >2.0</text>
<text transform="translate(491,567.8) scale(1,1.05)" text-anchor="end" style='font-size:13.8px;font-family:"Liberation Sans",sans-serif;' fill="#1a1a1a" stroke="#1a1a1a" stroke-width="0.12" >0.00</text>
<text transform="translate(491,545.5) scale(1,1.05)" text-anchor="end" style='font-size:13.8px;font-family:"Liberation Sans",sans-serif;' fill="#1a1a1a" stroke="#1a1a1a" stroke-width="0.12" >0.05</text>
<text transform="translate(491,523.2) scale(1,1.05)" text-anchor="end" style='font-size:13.8px;font-family:"Liberation Sans",sans-serif;' fill="#1a1a1a" stroke="#1a1a1a" stroke-width="0.12" >0.10</text>
<text transform="translate(491,500.9) scale(1,1.05)" text-anchor="end" style='font-size:13.8px;font-family:"Liberation Sans",sans-serif;' fill="#1a1a1a" stroke="#1a1a1a" stroke-width="0.12" >0.15</text>
<text transform="translate(508.7,584.6) scale(1,1.05)" text-anchor="middle" style='font-size:13.8px;font-family:"Liberation Sans",sans-serif;' fill="#1a1a1a" stroke="#1a1a1a" stroke-width="0.12" >-80</text>
<text transform="translate(547.1,584.6) scale(1,1.05)" text-anchor="middle" style='font-size:13.8px;font-family:"Liberation Sans",sans-serif;' fill="#1a1a1a" stroke="#1a1a1a" stroke-width="0.12" >-40</text>
<text transform="translate(585.5,584.6) scale(1,1.05)" text-anchor="middle" style='font-size:13.8px;font-family:"Liberation Sans",sans-serif;' fill="#1a1a1a" stroke="#1a1a1a" stroke-width="0.12" >0</text>
<text transform="translate(623.9,584.6) scale(1,1.05)" text-anchor="middle" style='font-size:13.8px;font-family:"Liberation Sans",sans-serif;' fill="#1a1a1a" stroke="#1a1a1a" stroke-width="0.12" >40</text>
<text transform="translate(662.3,584.6) scale(1,1.05)" text-anchor="middle" style='font-size:13.8px;font-family:"Liberation Sans",sans-serif;' fill="#1a1a1a" stroke="#1a1a1a" stroke-width="0.12" >80</text>
<text transform="translate(573.7,599.8) scale(1,1.05)" text-anchor="start" style='font-size:14px;font-family:"Liberation Sans",sans-serif;' fill="#1a1a1a" stroke="#1a1a1a" stroke-width="0.12" >θ (°)</text>
<text transform="translate(455.6,343.9) rotate(-90)" text-anchor="middle" style="font-size:14px" fill="#1a1a1a" font-family='"Liberation Sans",sans-serif'>S(θ)</text>
<text transform="translate(639,226.8) scale(1,1.05)" text-anchor="start" style='font-size:14px;font-family:"Liberation Sans",sans-serif;' fill="#1a1a1a" stroke="#1a1a1a" stroke-width="0.12" >PPP</text>
<text transform="translate(640.1,491.3) scale(1,1.05)" text-anchor="start" style='font-size:13.6px;font-family:"Liberation Sans",sans-serif;' fill="#1a1a1a" stroke="#1a1a1a" stroke-width="0.12" >PSS</text>
<circle cx="523.7" cy="236.6" r="3.1" fill="#F77A7E"/>
<circle cx="523.7" cy="251.6" r="3.1" fill="#6F95F7"/>
<text transform="translate(538.8,241.6) scale(1,1.05)" text-anchor="start" style='font-size:14.6px;font-family:"Liberation Sans",sans-serif;' fill="#1a1a1a" stroke="#1a1a1a" stroke-width="0.12" >C16 + 1 mM NaCl</text>
<text transform="translate(538.8,256.6) scale(1,1.05)" text-anchor="start" style='font-size:14.5px;font-family:"Liberation Sans",sans-serif;' fill="#1a1a1a" stroke="#1a1a1a" stroke-width="0.12" >C16 + 1 mM NaOH</text>
<text transform="translate(519.6,272.6) scale(1,1.05)" text-anchor="start" style='font-size:14px;font-family:"Liberation Sans",sans-serif;' fill="#1a1a1a" stroke="#1a1a1a" stroke-width="0.12" >Φ<tspan style="font-size:9.5px;font-weight:bold" dy="0">o</tspan> (mV)</text>
<line x1="518.6" y1="283.3" x2="537.8" y2="283.3" stroke="#555" stroke-width="1.15" />
<line x1="590.7" y1="283.3" x2="610.5" y2="283.3" stroke="#444" stroke-width="0.9" stroke-dasharray="1,1"/>
<text transform="translate(543.3,287) scale(1,1.05)" text-anchor="start" style='font-size:14.2px;font-family:"Liberation Sans",sans-serif;' fill="#1a1a1a" stroke="#1a1a1a" stroke-width="0.12" >-32 mV</text>
<text transform="translate(616,287) scale(1,1.05)" text-anchor="start" style='font-size:14.2px;font-family:"Liberation Sans",sans-serif;' fill="#1a1a1a" stroke="#1a1a1a" stroke-width="0.12" >-72 mV</text>
</svg>
</body></html>
